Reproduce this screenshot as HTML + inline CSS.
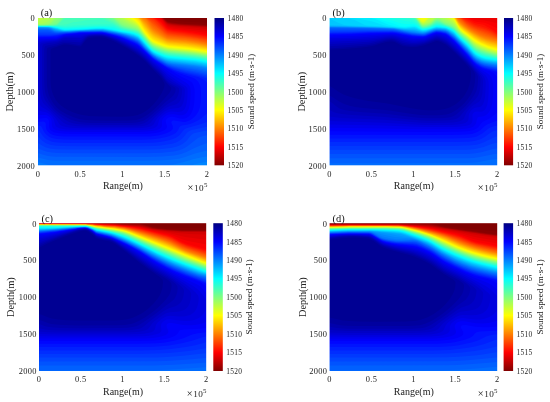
<!DOCTYPE html>
<html><head><meta charset="utf-8"><title>Sound speed profiles</title>
<style>html,body{margin:0;padding:0;background:#fff}svg{display:block}text{font-family:"Liberation Serif","DejaVu Serif",serif;fill:#222}.b{font-size:7.4px;letter-spacing:0.3px}.t{font-size:8.4px;letter-spacing:0.35px}.l{font-size:10.2px}.c{font-size:9.05px}.p{font-size:10.4px;fill:#111}</style></head><body>
<svg width="550" height="402" viewBox="0 0 550 402">
<rect width="550" height="402" fill="#fff"/>
<defs><linearGradient id="jet" x1="0" y1="0" x2="0" y2="1"><stop offset="0.000" stop-color="#000080"/><stop offset="0.062" stop-color="#0000bf"/><stop offset="0.125" stop-color="#0000ff"/><stop offset="0.188" stop-color="#0040ff"/><stop offset="0.250" stop-color="#0080ff"/><stop offset="0.312" stop-color="#00bfff"/><stop offset="0.375" stop-color="#00ffff"/><stop offset="0.438" stop-color="#40ffbf"/><stop offset="0.500" stop-color="#80ff80"/><stop offset="0.562" stop-color="#bfff40"/><stop offset="0.625" stop-color="#ffff00"/><stop offset="0.688" stop-color="#ffbf00"/><stop offset="0.750" stop-color="#ff8000"/><stop offset="0.812" stop-color="#ff4000"/><stop offset="0.875" stop-color="#ff0000"/><stop offset="0.938" stop-color="#bf0000"/><stop offset="1.000" stop-color="#800000"/></linearGradient></defs>
<!-- panel (a) -->
<mask id="ma" maskUnits="userSpaceOnUse" x="36.0" y="16.0" width="173.0" height="151.3"><rect x="38.00" y="18.00" width="169.00" height="147.30" fill="#fff"/></mask>
<g mask="url(#ma)"><g transform="translate(38.0,18.0)">
<rect x="-1" y="-1" width="171.0" height="149.3" fill="#000093"/>
<path fill="#00009f" d="M-1,-1 171,-1 171,150 -1,150zM51,20 50,20.4 48,22 46,24.2 44,26.9 43,28 42,28.4 40,28.3 31,26.8 28,26.5 26,26.6 24,27 20,28.5 15,30 13.2,31 12.6,32 12.5,35 12.5,60 12.6,65 13,68.9 14,73.5 15.7,78 17.9,82 20,84.7 23,87.5 26.5,90 29.9,92 34.4,94 40,95.9 44.6,97 51,97.9 56,98.3 66,98.6 84,98.7 90,98.5 95,98.1 99.6,97 104,95.2 107.8,93 111.7,90 115.8,86 120,80.8 123.7,75 126,70 126.7,67 126.2,65 124,61 122,58.5 115,51.6 108,44 104.7,41 100.9,38 95.2,34 90.4,31 85,28 75.4,23 66.9,20 64,19.4 62,19.3 56,19.5z"/>
<path fill="#0000ac" d="M-1,-1 171,-1 171,150 -1,150zM51,18.8 50,19.1 47.6,21 46,22.7 44,25.3 43,26.3 42,26.8 41,26.9 31,25.2 26,25.1 24,25.5 19,27.2 11,29.2 9.5,30 8.9,31 8.7,34 8.8,63 9,68 9.8,73 10.6,76 11.8,79 13.3,82 15,85 18.2,89 20.4,91 23,92.9 28.2,96 35,99.1 41,100.9 47,101.9 58,102.5 76,102.7 91,102.5 98,101.9 101.6,101 105,99.5 109,97.1 113.1,94 116.5,91 120.6,87 129.6,77 132,74 133,72 133.3,71 133.2,70 132.6,69 130,66.6 128,64.3 123,57.6 121,55.5 115,50 107,41.6 102.8,38 97.3,34 91,30 78.1,23 73.4,21 67.6,19 64,18.2 62,18 56,18.2z"/>
<path fill="#0000b9" d="M-1,-1 171,-1 171,150 -1,150zM52,17.9 50,18.4 48.8,19 46.2,21 43,24.2 42,24.6 30,23.5 26,23.4 24,23.8 18,25.8 9,27.4 7.5,28 6.7,29 6.4,30 6.2,32 6.2,62 6.5,69 7.1,74 7.9,77 8.7,79 10.2,82 12.1,85 16,90.2 18,92.3 21,94.7 27,98.5 33,101.7 37,103.1 43,104.2 53,104.9 68,105.1 91,105 96,104.8 100,104.3 103,103.6 105,102.9 107,101.8 110,99.7 118,93 127,84.5 133.8,79 135.7,77 136.8,75 137.5,73 137.7,71 137.2,70 136.2,69 132,66.4 130,65 128,62.8 124,57.3 122,55 115,48.7 107,40.4 103,37 99,33.9 91.1,29 79.8,23 75.4,21 69.7,19 66,17.9 63,17.5 57,17.6z"/>
<path fill="#0000c6" d="M-1,-1 171,-1 171,150 -1,150zM59,17 53,17.3 50,17.7 47.3,19 44,21.4 43,22 42,22.3 30,21.7 26,21.8 24,22.2 19,23.9 16,24.5 10,25.1 7,25.8 6,26 4.7,27 4.3,28 4.1,31 4.1,63 4.3,71 5,76.2 6.1,80 7,82 8.3,84 14.9,92 19,95.8 27,101.7 30,103.5 34,105.1 39,106.1 48,106.8 61,107 91,107 97,106.8 101,106.4 103.6,106 106,105.3 109,103.8 127,87.9 130,85.7 136,82.5 138,81 138.8,80 140,77.6 140.9,74 141.1,71 140.6,70 139,68.8 132.1,65 130,63.4 128,61.2 124.3,56 122,53.4 115,47.4 108,40.2 102,34.9 97.9,32 91.1,28 85.5,25 77,21 71.4,19 66,17.4 63,17z"/>
<path fill="#0000d2" d="M-1,-1 171,-1 171,150 -1,150zM51,17 47.1,18 44,19.6 42,20.1 28,20.1 26,20.3 23.7,21 20,22.6 18,23.1 9.3,24 4,25 2.4,26 2,27 1.8,31 1.9,68 2.4,76 3.3,81 4.6,84 6,86 11,90.5 16,95.7 24,103.4 25.9,105 29,106.5 32,107.3 37,108.1 44,108.5 58,108.7 91,108.7 99,108.6 105,108 109,107 111,106 112,105.2 113.2,104 116.4,100 118.4,98 124,93.1 128,90.1 130,88.9 132,88 137,86.7 138.7,86 140,85.2 141.2,84 142,82.7 142.7,81 143.5,78 143.9,75 144.1,72 144,71 143.6,70 142,68.6 134.1,64 130,61 128,58.9 124.1,54 122.2,52 115,46.1 107,38.1 101,32.9 96.5,30 87.3,25 78.6,21 74,19.3 68,17.4 64,16.6 58,16.5z"/>
<path fill="#0000df" d="M-1,-1 171,-1 171,150 -1,150 -1,77.6 -0.6,80 0.6,84 1.5,86 2.8,88 3.8,89 5,89.8 9,91.9 12,94.1 14.8,97 17.5,100 21.3,106 23,107.4 25,108.3 28,109.1 32,109.7 42,110.3 61,110.4 99,110.3 104,110.1 108,109.6 111,109 113.6,108 115,107 115.9,106 118,102 120.2,99 123.5,96 127,93.3 130,91.7 132,91.1 134,90.7 140,90.1 141,89.8 142.4,89 143.5,88 144.2,87 145.5,84 146.5,79 146.9,73 146.7,71 146.3,70 145.4,69 136,63 130,58.4 122.8,51 115,44.8 107,36.9 101,31.7 96.8,29 87.1,24 80.3,21 75,19 68.2,17 64,16.2 59,16.1 51,16.4 47,17.2 43,18.5 42,18.7 28,19.1 26,19.3 24,19.9 19,22 17,22.3 9,22.9 4,23.6 1,24.4 -0.2,25 -1,25.7z"/>
<path fill="#0000ec" d="M-1,-1 171,-1 171,150 -1,150 -1,91.1 2.3,93 4,93.5 8,94.3 10,95.2 11,95.9 13.3,98 15.5,101 16.2,103 17,106.4 17.8,108 18.9,109 20,109.6 22,110.4 24,110.8 28,111.4 33,111.8 47,112.1 97,112.1 105,111.9 110,111.5 112.9,111 115,110.4 116.2,110 118,109 119.1,108 119.7,107 121.1,102 122.3,100 125,97.3 128,95.2 130,94.3 133,93.6 135,93.5 140,93.9 142,93.8 144,93.2 145.6,92 146.5,91 147.6,89 148.7,85 149.4,80 149.6,73 149.5,71 149.2,70 147.5,68 138,61.8 130,55.9 122.3,49 115,43.6 107,35.8 101,30.5 97,28 87,23 82.2,21 76.8,19 69,16.7 64,15.7 60,15.6 51,15.9 47,16.3 42,17.3 27,18.2 25,18.7 20,20.8 18,21.3 8,21.8 -1,22.9z"/>
<path fill="#0000f9" d="M-1,-1 171,-1 171,150 -1,150 -1,96.7 2,97.1 8,97.1 9,97.4 10.3,98 11.5,99 12.4,100 13.4,102 13.7,104 13.9,108 14.3,109 14.9,110 16,111 18,112 22.6,113 27,113.5 33,113.8 53,114 101,113.9 109,113.6 114,113.1 119,112 121.2,111 122.6,110 123.5,109 123.9,108 124,103 124.7,101 126.4,99 129,97.2 131,96.5 134,96.2 136,96.3 141,97.2 144,97.3 146,96.8 147.3,96 148.4,95 149.2,94 150.3,92 151.1,90 151.8,87 152.4,81 152.7,73 152.5,71 152,69 151,67.3 149.7,66 147,64.1 138,58.6 132,54.7 123.1,48 116,43.1 113,40.6 104,31.9 100.6,29 97.3,27 86.7,22 78.7,19 69,16.3 65,15.5 62,15.2 51,15.4 46,15.7 37,16.6 27,17.4 25,17.9 20,20 18,20.4 -1,21.1z"/>
<path fill="#0006ff" d="M-1,-1 171,-1 171,150 -1,150 -1,100.7 2,100.6 7,99.9 8,100 9,100.3 10,101.1 10.6,102 11,103 11.1,104 11,109 11.7,111 12.5,112 14,113.2 16,114.2 18,114.8 21,115.3 27,115.7 37,116 95,116.1 109,115.9 113,115.6 117,115.1 121,114.2 124,113.3 126.6,112 127.9,111 128.6,110 128.9,109 128.9,108 128,105 127.7,103 127.9,102 128.5,101 130,99.7 132,98.9 134,98.8 136,99 142,100.4 145,100.7 147,100.4 148.3,100 150,99 151.2,98 152.8,96 153.9,94 154.7,92 155.6,89 156.4,83 156.7,74 156.5,71 155.4,67 154.3,65 153,63.8 151,62.4 143,58.4 129,50.6 117,42.8 113,39.7 102,29.1 99.1,27 95.1,25 83.6,20 77.3,18 69.6,16 65,15.1 62,14.9 46,15 42,15.2 37,15.9 31,16.3 26,16.9 20,19.1 18,19.5 -1,19.8z"/>
<path fill="#0013ff" d="M-1,-1 171,-1 171,150 -1,150 -1,104 5,103.6 6,103.7 6.8,104 7.6,105 7.8,106 7.9,109 8.3,111 9,112.5 10,113.8 12,115.5 14,116.5 17,117.5 20,117.9 26,118.4 36,118.6 101,118.6 112,118.4 116,118 120,117.5 125,116.3 128.9,115 132,113.5 134,112 134.6,111 134.9,110 134.7,108 133.4,105 133.3,104 134,102.9 135,102.6 136,102.5 144,103.8 146,103.9 148,103.7 150,103.1 152.4,102 153.9,101 156.3,99 158.1,97 159.5,95 160.6,93 161.7,90 162.3,87 162.7,84 163,75 162.6,70 162.2,68 161.5,66 160.4,64 159.6,63 157.1,61 155.3,60 152.8,59 148,57.6 140,54.7 135,52.7 130,50.3 125,47.3 116,41.5 112,38.1 103,29.4 100,26.9 96.6,25 87.4,21 82.1,19 75.1,17 66.5,15 64,14.7 61,14.6 40,14.9 36,15.6 28.7,16 25,16.7 20,18.2 18,18.5 11,18.9 -1,18.9z"/>
<path fill="#0020ff" d="M-1,-1 171,-1 171,65.7 169,64.7 166.2,62 162.6,60 159,58.8 149,56.3 143,54.6 135,51.8 129,49.1 118,42.3 115,40.2 112,37.6 102,27.9 99.6,26 96,24.2 86.1,20 79,17.7 67.9,15 65,14.5 62,14.3 49,14.4 41,14.6 35,15.3 28,15.8 26,16 19,17.6 13,18.1 -1,18.3zM170.4,94 171,93.6 171,150 -1,150 -1,107.2 1,107.4 2,107.7 3,108.2 4,109.5 5.5,113 6.8,115 8,116.3 10,118 12,119.2 14,120 16,120.6 19,121.1 26,121.5 39,121.7 103,121.7 115,121.3 121,120.6 126,119.6 131,118.2 135,116.6 137,115.4 138.7,114 140.1,112 141.5,109 142.6,108 144,107.5 149,106.7 152,105.9 154.6,105 158.9,103 161,101.8 163.7,100z"/>
<path fill="#002dff" d="M-1,-1 171,-1 171,60.7 169,60.6 160,57.7 144,53.9 136,51.4 130,49 127,47.4 119,42.5 115,39.8 112,37.2 102,27.4 99,25.1 96,23.6 87,19.9 84,18.8 77.8,17 69,15 64,14.1 48,14.1 41,14.3 36,14.9 28,15.5 19,16.9 13,17.5 -1,17.6zM169.1,104 171,103.6 171,150 -1,150 -1,111.1 0,111.6 1,112.6 4.9,118 6,119.2 8,120.9 10,122.1 12,123 14,123.7 17,124.2 23,124.7 34,124.9 102,124.9 114,124.7 120,124.2 125,123.5 131,122.3 135,121.1 138,119.8 140.6,118 142.6,116 145.7,112 146.9,111 148,110.4 150,109.7 159.9,107z"/>
<path fill="#0039ff" d="M-1,-1 171,-1 171,59.2 169,59.1 160,56.4 148,53.9 143,52.6 136,50.6 130,48.4 127,46.9 120,42.7 115,39.4 111,35.8 102,26.8 99,24.6 96,23.1 86,19.1 78,16.7 66,14.1 61,13.8 42,14 36,14.7 27,15.3 18,16.4 10,16.8 -1,16.8zM167.7,109 171,108.6 171,150 -1,150 -1,117.8 4.6,123 8,125.2 10,126.1 13,127 18,127.8 25,128.1 39,128.2 105,128.2 117,127.9 123,127.4 129,126.6 134,125.7 138,124.5 141,123 143.8,121 145.7,119 149,114.8 151.3,113 153.7,112 156,111.4z"/>
<path fill="#0046ff" d="M-1,-1 171,-1 171,57.7 169,57.6 160,55.2 148,52.8 141,51.1 134,49.2 129,47.4 120,42.3 115,39 111,35.4 102,26.3 99,24 96,22.6 87,19 79,16.6 67,14 62,13.6 42,13.8 36,14.4 18,15.8 11,15.4 -1,15.3zM166.5,113 171,112.6 171,150 -1,150 -1,124.5 5,128 8,129.4 13,130.7 18,131.3 32,131.6 103,131.6 114,131.5 121,131.2 128,130.5 134,129.7 138,128.8 141,127.8 144.5,126 147.2,124 149.2,122 153,117.3 155,115.8 156.7,115 159,114.4z"/>
<path fill="#0053ff" d="M-1,-1 171,-1 171,56.3 169,56.2 160,53.9 148,51.7 139,49.8 133,48.2 129,46.8 120,41.9 115,38.6 111,35.1 102,25.8 99,23.5 96,22 88.2,19 84,17.6 80,16.5 68,14 63,13.4 42,13.6 34,14.3 18,15.2 16,15 12,13.9 10,13.7 -1,13.7zM165.1,118 168,117.4 171,117.1 171,150 -1,150 -1,130 6,132.8 9,133.7 14,134.6 19,135 34,135.2 107,135.2 116,135 124,134.7 131,134 136,133.4 140,132.5 144,131.2 147,129.7 149.8,128 158,121.4 160,120 162.1,119z"/>
<path fill="#0060ff" d="M-1,-1 171,-1 171,54.8 169,54.8 160,52.6 138,48.7 133,47.5 129,46.3 126,44.8 120,41.4 115,38.2 110.3,34 106,29.7 102,25.3 100,23.6 99,22.9 96,21.5 88,18.5 84,17.2 80,16.2 68,13.7 63,13.1 42,13.4 32,14.2 19,14.7 17,14.6 16,14.3 12.8,13 10,12.2 -1,12.2zM169.5,125 171,124.8 171,150 -1,150 -1,134.8 6,136.9 10,137.9 14,138.4 19,138.7 107,138.9 117,138.8 124,138.5 136,137.4 140,136.7 143,136 148,134.2 156,130.3 160,128.5 167,125.7z"/>
<path fill="#006cff" d="M-1,-1 171,-1 171,53.4 169,53.3 159,51.2 137,47.7 132,46.6 129,45.7 126,44.3 120,41 115,37.8 113,36.1 110,33.3 101,23.8 99,22.4 96,21 87.9,18 80.7,16 68,13.5 63,12.9 43,13.2 30,14.1 20,14.2 17,14 15,13.3 12,11.9 10,11.5 -1,11.4zM167.1,133 171,132.4 171,150 -1,150 -1,139.3 10,141.9 14,142.4 19,142.7 103,142.8 120,142.6 133,141.8 141,140.7 147,139.1 157,135.6z"/>
<path fill="#0079ff" d="M-1,-1 171,-1 171,51.9 169,51.9 159.3,50 135,46.6 131,45.7 128,44.7 119,40 114,36.6 107,29.9 102,24.3 99.2,22 96,20.5 90,18.3 82.2,16 69,13.4 64,12.7 57,12.7 42.5,13 32,13.8 24,13.9 17,13.4 12,11.3 10.8,11 -1,10.8zM165.2,139 171,138.3 171,150 -1,150 -1,143.9 2,144.6 9,146.6 13,147.6 17,148.1 22,148.4 36,148.6 103,148.6 118,148.3 129,147.3 135,146.5 139,145.8 145,144.3 156,140.9z"/>
<path fill="#0086ff" d="M-1,-1 171,-1 171,50.7 169,50.7 161,49.1 153,48 134,45.7 130,44.9 128,44.2 119,39.6 114,36.2 109.5,32 106,28.4 102,23.8 100,22 96,20 90.4,18 83.6,16 74,14 68,13 64,12.5 58,12.4 42,12.8 32,13.6 25,13.7 21,13.4 17,12.9 12.6,11 10,10.4 -1,10.2zM167.9,144 171,143.7 171,150 150.7,150 151.6,149 153,148 156,146.6 162,145z"/>
<path fill="#0093ff" d="M-1,-1 171,-1 171,49.8 169,49.8 162,48.5 156,47.6 135,45.2 131,44.5 128,43.6 119,39.1 114,35.8 110,32 106,27.9 102,23.3 100,21.5 97.2,20 94.6,19 88.5,17 84,15.8 75.4,14 68,12.7 64,12.2 58,12.2 42,12.7 33,13.3 26,13.5 22,13.2 17,12.4 13,10.7 10.7,10 -1,9.8z"/>
<path fill="#009fff" d="M-1,-1 171,-1 171,49.1 169,49.1 162,47.8 156,46.9 134,44.4 130,43.7 128,43.1 119,38.7 116,36.9 114,35.4 110.4,32 106,27.4 102,22.8 100,21 98,19.9 95,18.7 89.7,17 84,15.5 76,13.9 68,12.5 64,12 55,12.1 42,12.5 31,13.2 26,13.3 23,13 18,12.2 16,11.6 12.3,10 11,9.8 -1,9.4z"/>
<path fill="#00acff" d="M-1,-1 171,-1 171,48.4 169,48.4 163,47.2 157,46.4 134,43.8 130,43.1 128,42.5 119,38.2 116,36.5 114,35 111.8,33 107,28 102,22.3 100,20.6 98,19.5 95,18.3 91,17 86,15.7 76,13.6 68,12.2 64,11.8 57,11.8 42,12.3 31,13 26,13.1 23,12.7 18,11.7 13.2,10 11,9.5 -1,9.1z"/>
<path fill="#00b9ff" d="M-1,-1 171,-1 171,47.7 169,47.7 163,46.5 157,45.7 134,43.2 130,42.5 127,41.5 119,37.8 116,36.1 114,34.6 110.3,31 102,21.8 100,20.1 98,19 95.5,18 88,15.9 76,13.4 68,12 64,11.5 58,11.5 42,12.2 32,12.8 26,12.8 23,12.4 18,11.3 13,9.7 11,9.3 7.9,9 -1,8.9z"/>
<path fill="#00c6ff" d="M-1,-1 171,-1 171,47 169,47 163,45.8 157,45 133,42.4 130,41.9 127,41 119,37.4 116,35.7 114,34.2 110.7,31 102,21.4 100,19.6 96,17.7 89,15.8 75,12.9 65,11.3 58,11.3 27,12.7 25,12.5 22.2,12 10.9,9 -1,8.8z"/>
<path fill="#00d2ff" d="M-1,-1 171,-1 171,46.3 169,46.3 163,45.1 157,44.3 133,41.8 130,41.3 127,40.4 119,36.9 116,35.2 114,33.8 111.1,31 102,20.9 100,19.2 96,17.3 90,15.6 75,12.6 65,11.1 59,11 27,12.5 23.4,12 12,9 9,8.8 -1,8.7z"/>
<path fill="#00dfff" d="M-1,-1 171,-1 171,45.6 169,45.6 163,44.4 157,43.6 133,41.2 130,40.7 127,39.8 119,36.5 116,34.8 114,33.4 111.5,31 102,20.4 100,18.7 96,16.9 91,15.5 75,12.4 68,11.2 64,10.8 59,10.7 35.6,12 27,12.3 24.5,12 19,10.4 12,8.8 9,8.6 -1,8.6z"/>
<path fill="#00ecff" d="M-1,-1 171,-1 171,44.9 169,44.9 163,43.7 157.8,43 133,40.6 129,39.9 126,38.9 118,35.5 116,34.4 114,33 111.9,31 102.1,20 100,18.2 96,16.4 92,15.3 84.3,14 73,11.7 65,10.5 58,10.5 49,11.2 27,12.1 25.9,12 23,11.3 18,9.8 12,8.7 -1,8.4z"/>
<path fill="#00f9ff" d="M-1,-1 171,-1 171,44.2 169,44.2 163,43 158,42.3 133,40 129,39.3 126,38.4 118,35.1 116,34 114,32.6 111.4,30 103,20.5 101,18.5 100,17.8 96,16 92,14.9 81,13.1 79,12.5 74,11.5 66,10.3 58,10.2 48,11 27,11.7 23,11 19,9.7 12,8.5 -1,8.3z"/>
<path fill="#06fff9" d="M-1,-1 171,-1 171,43.6 169,43.5 160,41.9 132,39.2 129,38.7 125,37.4 118.9,35 116,33.5 114,32.1 111.8,30 103,20 100,17.3 96,15.5 92,14.4 82.4,13 75,11.2 69,10.2 65,9.9 60,9.8 38.2,11 27,11.3 24.2,11 19,9.4 13,8.5 10,8.3 -1,8.2z"/>
<path fill="#13ffec" d="M-1,-1 171,-1 171,43 169,42.9 163,41.8 157,41 133,38.8 129,38.1 126,37.2 118,34.1 115.9,33 114,31.7 112,29.7 102,18.4 100,16.8 99,16.2 96,15 93,14.2 84,12.8 75,10.3 67,9.4 61,9.2 47.5,10 27,10.8 24,10.3 19,9 13,8.3 10,8.1 -1,8.1z"/>
<path fill="#20ffdf" d="M-1,-1 171,-1 171,42.4 169,42.4 162,41.1 157,40.4 133,38.2 129,37.6 126,36.7 118,33.6 116,32.5 114,31.2 112,29.2 103,18.9 101,17 100,16.2 97,14.9 94,14 83,11.9 76,9.3 74,9 71,8.8 61,8.5 27,10 25,9.8 19,8.6 13,8.1 -1,8z"/>
<path fill="#2dffd2" d="M-1,-1 171,-1 171,41.9 169,41.8 163,40.7 157,39.9 132,37.5 129,37 125,35.8 118,33.1 116,32 114,30.7 112,28.7 103,18.4 101,16.4 100,15.7 97,14.4 94,13.5 83,11.2 76,8 73,7.7 58,7.8 27,9 20,8.4 12,7.9 -1,7.9z"/>
<path fill="#39ffc6" d="M-1,-1 171,-1 171,41.3 169,41.3 163,40.1 157,39.3 132,36.9 128,36.1 124,34.8 118,32.5 116,31.5 114,30.2 112,28.2 103,17.8 101,15.9 100,15.1 98,14.2 95,13.2 91,12.3 85,11.1 83,10.6 77,7.4 75,6.6 73,6.3 70,6.2 51,6.6 27,8 11,7.7 -1,7.8z"/>
<path fill="#46ffb9" d="M-1,-1 171,-1 171,40.8 169,40.7 163,39.6 157,38.8 131,36.2 127,35.3 121,33.2 117,31.5 114,29.6 112,27.7 103,17.3 101,15.3 100,14.6 98,13.7 95.9,13 91,11.8 86,10.8 83.3,10 81.2,9 77,6.5 75,5.5 65.9,2 63,1.5 61,1.4 47,2.4 42,3.5 35,4.3 29.9,6 27,6.5 18,7.6 -1,7.6z"/>
<path fill="#53ffac" d="M-1,-1 28,-1 27.8,0 25,1.9 21.1,6 19.4,7 18,7.3 16,7.4 -1,7.5zM64.3,-1 171,-1 171,40.2 169,40.2 163,39.1 157,38.3 131,35.6 127,34.7 120,32.3 116,30.5 114,29.1 113,28.2 103,16.8 101,14.8 100,14.1 98,13.1 96,12.5 86,10.2 83,9.2 80.8,8 75,4.3 69.9,2 64.6,0z"/>
<path fill="#60ff9f" d="M-1,-1 26,-1 25.9,0 24,1.8 21,5.2 20,6.1 19,6.7 17.8,7 14,7.2 -1,7.4zM66.4,-1 171,-1 171,39.7 169,39.6 162,38.4 156,37.6 131,35 127,34.1 120,31.7 116,29.9 114,28.6 113,27.7 103,16.2 101,14.2 100,13.5 97,12.3 84,8.9 82,7.9 77,4.3 75,3 66.9,0z"/>
<path fill="#6cff93" d="M-1,-1 25.4,-1 25.3,0 20.5,5 19,6.2 14,7 -1,7.3zM69.2,-1 171,-1 171,39.1 169,39.1 163,38 156,37 131,34.5 127,33.6 119,30.8 115,28.8 113,27.2 103,15.7 101,13.7 100,13 97,11.8 87,9.2 84,8.3 81.8,7 76,2.3 74,1.3 69.8,0z"/>
<path fill="#79ff86" d="M-1,-1 24.7,-1 24.5,0 21,3.6 19.5,5 18,5.8 10.9,7 -1,7.2zM73.6,-1 171,-1 171,38.6 169,38.5 162,37.3 155,36.4 131,33.9 126,32.7 119,30.3 115,28.3 113,26.7 103,15.1 101,13.1 100,12.4 97,11.2 88.3,9 84,7.6 81.5,6 77,2 74,0z"/>
<path fill="#86ff79" d="M-1,-1 23.2,-1 23,0 22,0.8 13.3,6 10,6.8 -1,7zM75,-1 171,-1 171,38 169,38 156,36 131,33.4 127,32.5 119,29.8 115,27.8 113,26.2 103,14.6 101,12.5 100,11.8 97,10.6 87.4,8 84,6.7 82,5.4 78,2 75.2,0z"/>
<path fill="#93ff6c" d="M-1,-1 18.6,-1 18.4,0 11.8,6 10,6.4 -1,6.8zM75.9,-1 171,-1 171,37.6 169,37.5 160,36 151.7,35 131,32.8 126,31.7 119,29.3 115,27.3 113,25.7 102,12.9 100,11.2 98,10.2 91.1,8 84,5.2 82,4.1 76.2,0z"/>
<path fill="#9fff60" d="M-1,-1 17.3,-1 17.1,0 13,4 11.9,5 10,6 -1,6.4zM77.1,-1 171,-1 171,37.1 169,37.1 162,35.9 154,34.8 131,32.4 127,31.5 119,28.8 115,26.9 113,25.3 106,17.2 102,12.3 100,10.5 98,9.3 91.7,7 83,3 77.5,0z"/>
<path fill="#acff53" d="M-1,-1 16.1,-1 15.9,0 12,2.4 10,3.4 5.6,5 1.1,6 -1,6.1zM79.2,-1 171,-1 171,36.7 169,36.6 161,35.3 153,34.2 131,31.9 127,31 119,28.3 115,26.4 113,24.8 106.2,17 102,11.7 100,9.7 98,8.5 91,5.4 85,2.2 79.6,0z"/>
<path fill="#b9ff46" d="M-1,-1 10.6,-1 10.1,0 9,0.7 4.5,2 0,4 -1,4.1zM83.6,-1 171,-1 171,36.2 169,36.2 161,34.8 153,33.7 130,31.3 126,30.3 118,27.5 115,25.9 112,23.3 106,16.3 102,11.1 100,9 98,7.6 92,4.7 87.5,2 85,0.8 83.9,0z"/>
<path fill="#c6ff39" d="M-1,-1 7,-1 6,0 2,0.6 -1,0.9zM85.1,-1 171,-1 171,35.8 169,35.7 161,34.4 152,33.2 134,31.4 130,30.8 126,29.8 118,27 115,25.5 112,22.9 106.2,16 102,10.5 100,8.3 98,6.8 96,5.6 85.3,0z"/>
<path fill="#d2ff2d" d="M86.3,-1 171,-1 171,35.3 169,35.3 161,33.9 152,32.7 130,30.4 126,29.4 118,26.5 115,25 112,22.4 106.6,16 101,8.6 99,6.7 97,5.2 94,3.4 86.7,0z"/>
<path fill="#dfff20" d="M88.3,-1 171,-1 171,34.8 169,34.8 161,33.4 151,32.1 130,29.9 126,28.9 118,26.1 115,24.6 112,22 106.2,15 101,7.9 99,5.9 97,4.2 94,2.2 92,1.2 88.8,0z"/>
<path fill="#ecff13" d="M91.7,-1 171,-1 171,34.4 169,34.4 160,32.8 150,31.5 134.2,30 130,29.4 125,28.1 117,25.1 114,23.4 111,20.4 106,14.3 102,8.5 100,6 96.6,3 92,0z"/>
<path fill="#f9ff06" d="M92.9,-1 171,-1 171,33.9 169,33.9 162,32.6 148,30.8 130.3,29 126.3,28 117.8,25 115.7,24 114.2,23 112,21 107,15 100.7,6 97.5,3 93.1,0z"/>
<path fill="#fff900" d="M93.8,-1 171,-1 171,33.4 169,33.3 158,31.5 150,30.4 134.2,29 130,28.4 128,28 124.9,27 116.9,24 115,22.9 112,20.3 106,13 102.8,8 100.7,5 98,2.6 94.1,0z"/>
<path fill="#ffec00" d="M94.9,-1 171,-1 171,32.7 169,32.7 160,31.2 149,29.7 131,27.9 127.2,27 119,24 115,22 112,19.4 109.1,16 106,12 101,4.2 99,2.3 95.3,0z"/>
<path fill="#ffdf00" d="M96.6,-1 171,-1 171,32.1 169,32 160,30.5 150,29.1 134,27.5 130,27 126.6,26 118,22.5 115,20.9 112,18.2 106.2,11 102,4.1 101,2.8 100,1.8 97,0z"/>
<path fill="#ffd200" d="M99.1,-1 171,-1 171,31.3 169,31.3 160,29.7 149,28.2 134,26.8 130,26.2 127,25.3 119,21.9 115,19.7 113,18 111.1,16 106,9.5 102,2.9 101,1.7 99.2,0z"/>
<path fill="#ffc600" d="M100,-1 171,-1 171,30.6 169,30.6 160,29 149,27.4 132,25.8 129,25.2 126,24 117,19.8 115,18.5 113,16.8 110.5,14 106,8.2 102,2.1 100.1,0z"/>
<path fill="#ffb900" d="M100.5,-1 171,-1 171,29.9 169,29.9 160,28.2 149,26.6 132,25 129,24.4 127,23.6 118,19.2 116,18.1 114,16.6 111.6,14 106,7 102.5,2 100.7,0z"/>
<path fill="#ffac00" d="M101.1,-1 171,-1 171,29.2 169,29.2 159,27.3 148,25.7 132,24.2 130,23.9 128,23.2 118,18.2 116,16.9 114,15.4 111.8,13 101.2,0z"/>
<path fill="#ff9f00" d="M101.6,-1 171,-1 171,28.5 169,28.4 159,26.6 148,25 132,23.5 130,23.1 128,22.4 118,17.1 116,15.8 114,14.2 112,12 108,6.9 101.8,0z"/>
<path fill="#ff9300" d="M102.3,-1 171,-1 171,27.7 169,27.7 159,25.8 148,24.2 132,22.7 130,22.3 128,21.6 118,16 115,13.9 113,11.9 108,5.6 102.5,0z"/>
<path fill="#ff8600" d="M103.1,-1 171,-1 171,27 169,27 161,25.4 150,23.7 144,23 133,22 129,21.2 127,20.3 118.2,15 115,12.7 113,10.7 108,4.3 103.3,0z"/>
<path fill="#ff7900" d="M104.3,-1 171,-1 171,26.2 169,26.2 160,24.5 148,22.6 133,21.2 131,21 129,20.4 126.4,19 118.5,14 115,11.5 113,9.3 109.9,5 108,2.8 104.6,0z"/>
<path fill="#ff6c00" d="M106.6,-1 171,-1 171,25.4 169,25.3 161,23.8 151,22.2 145,21.4 133,20.3 131,20 129,19.4 127,18.3 118,12.3 115,9.9 113,7.7 109,2.3 106.7,0z"/>
<path fill="#ff6000" d="M107.5,-1 171,-1 171,24.4 169,24.4 159,22.5 148,20.8 133,19.3 130,18.8 129,18.4 126.7,17 118,10.7 115,8.3 109.6,2 107.6,0z"/>
<path fill="#ff5300" d="M108.1,-1 171,-1 171,23.5 169,23.5 160,21.8 149,20 144,19.4 135,18.6 130,17.7 129,17.3 127,16.1 115,6.6 108.3,0z"/>
<path fill="#ff4600" d="M108.8,-1 171,-1 171,22.6 169,22.6 160,20.8 149,19.1 135,17.6 130,16.7 129,16.3 127,15 109,0z"/>
<path fill="#ff3900" d="M109.7,-1 171,-1 171,21.7 169,21.6 160,19.9 149,18.2 135,16.6 130,15.7 129,15.3 127,13.9 116,4.1 110,0z"/>
<path fill="#ff2d00" d="M111.5,-1 171,-1 171,20.7 169,20.7 153,17.9 145,16.7 135,15.7 130,14.7 128.7,14 127,12.7 116.8,3 115,1.7 111.8,0z"/>
<path fill="#ff2000" d="M114.6,-1 171,-1 171,19.8 169,19.8 159,17.9 146,15.9 134,14.6 130,13.7 128.7,13 127,11.6 118.4,3 114.8,0z"/>
<path fill="#ff1300" d="M115.7,-1 171,-1 171,18.9 169,18.8 159,17 146,15 135,13.7 130,12.7 128,11.4 123,6.2 118.5,2 115.8,0z"/>
<path fill="#ff0600" d="M116.5,-1 171,-1 171,17.9 169,17.9 160,16.2 146,14.1 135,12.7 130,11.6 129,11.1 127.8,10 123,4.8 119.6,2 116.7,0z"/>
<path fill="#f90000" d="M117.5,-1 171,-1 171,16.9 169,16.8 156,14.5 143,12.6 136,11.9 131,10.9 129,10 127.9,9 123,3.4 117.8,0z"/>
<path fill="#ec0000" d="M119.1,-1 171,-1 171,15.1 169,15.1 157,13.2 136,10.7 131,9.8 130,9.5 129,8.8 127.3,7 124,2.8 122,1.3 119.5,0z"/>
<path fill="#df0000" d="M122,-1 171,-1 171,13.2 169,13.1 159,11.8 137,9.6 131,8.6 130,8.3 129,7.6 128,6.6 124,1.6 122.2,0z"/>
<path fill="#d20000" d="M123,-1 171,-1 171,11.2 169,11.2 159,10.1 139,8.6 131,7.5 130,7.2 129,6.6 128,5.6 125,2 123.1,0z"/>
<path fill="#c60000" d="M123.5,-1 171,-1 171,9.8 169,9.8 161.4,9 139,7.7 131,6.6 129,5.8 128,4.9 123.7,0z"/>
<path fill="#b90000" d="M124,-1 171,-1 171,9.1 142,7.4 132,6.2 130,5.7 129,5.2 128,4.3 124.1,0z"/>
<path fill="#ac0000" d="M124.4,-1 171,-1 171,8.7 141,6.8 135,6.2 131,5.5 130,5.3 128,3.8 124.5,0z"/>
<path fill="#9f0000" d="M124.8,-1 171,-1 171,8.3 143,6.6 137,6 132,5.3 130,4.8 128.7,4 124.9,0z"/>
<path fill="#930000" d="M125.2,-1 171,-1 171,7.8 143,6.2 132.8,5 130,4.3 129,3.7 128,2.8 125.4,0z"/>
<path fill="#860000" d="M125.9,-1 171,-1 171,7.2 165.7,7 159,6.3 148.1,6 137.3,5 135,4.6 131,3.8 129.2,3 126,0z"/>
<path fill="#800000" d="M127.6,-1 171,-1 171,4.7 147,3.8 141,3.3 136,2.5 130,1.1 127.9,0z"/>
<path fill="#800000" d="M145.5,-1 171,-1z"/>
</g></g>
<rect x="214.5" y="18.0" width="9.5" height="147.3" fill="url(#jet)"/>
<text class="t" x="35.1" y="21.3" text-anchor="end">0</text>
<text class="t" x="35.1" y="58.1" text-anchor="end">500</text>
<text class="t" x="35.1" y="94.9" text-anchor="end">1000</text>
<text class="t" x="35.1" y="131.7" text-anchor="end">1500</text>
<text class="t" x="35.1" y="168.6" text-anchor="end">2000</text>
<text class="t" x="38.0" y="176.6" text-anchor="middle">0</text>
<text class="t" x="80.2" y="176.6" text-anchor="middle">0.5</text>
<text class="t" x="122.5" y="176.6" text-anchor="middle">1</text>
<text class="t" x="164.8" y="176.6" text-anchor="middle">1.5</text>
<text class="t" x="207.0" y="176.6" text-anchor="middle">2</text>
<text class="b" x="227.5" y="20.8">1480</text>
<text class="b" x="227.5" y="39.2">1485</text>
<text class="b" x="227.5" y="57.6">1490</text>
<text class="b" x="227.5" y="76.1">1495</text>
<text class="b" x="227.5" y="94.5">1500</text>
<text class="b" x="227.5" y="112.9">1505</text>
<text class="b" x="227.5" y="131.3">1510</text>
<text class="b" x="227.5" y="149.7">1515</text>
<text class="b" x="227.5" y="168.1">1520</text>
<text class="l" style="font-size:10px" x="122.9" y="189.3" text-anchor="middle">Range(m)</text>
<text class="t" x="207.7" y="190.8" text-anchor="end"><tspan font-size="10.4">×</tspan><tspan font-size="9.2" dx="0.3">10</tspan><tspan dy="-3.9" font-size="6.9">5</tspan></text>
<text class="l" transform="translate(12.9,91.7) rotate(-90)" text-anchor="middle">Depth(m)</text>
<text class="c" transform="translate(253.7,91.5) rotate(-90)" text-anchor="middle">Sound speed (m·s-1)</text>
<text class="p" x="40.7" y="15.7">(a)</text>
<!-- panel (b) -->
<mask id="mb" maskUnits="userSpaceOnUse" x="327.6" y="16.0" width="171.6" height="151.3"><rect x="329.60" y="18.00" width="167.60" height="147.30" fill="#fff"/></mask>
<g mask="url(#mb)"><g transform="translate(329.6,18.0)">
<rect x="-1" y="-1" width="169.6" height="149.3" fill="#000093"/>
<path fill="#00009f" d="M-1,-1 170,-1 170,150 -1,150 -1,67.5 2,68.9 9,73.7 14,76.4 20.8,79 28.4,81 39,82.9 58,85.4 80.3,90 88,91.3 94,92 98,92.2 104,92.2 109,91.9 115.1,91 118.5,90 121,89 124.7,87 127,85.4 129.9,83 132,80.8 134,78.4 136,75.5 137.9,72 139,69.3 140,66 140.8,62 141.2,59 141.3,55 141.1,53 140.8,52 139,48.9 135.5,45 124,33.5 119,28.9 116,26.6 111.2,24 108,23.1 107,23.1 105,23.5 100,25.5 94,27.4 89,28.6 86,29.1 81,29 74,28.3 72,27.6 65,24.1 63,23.6 61,23.5 56.9,24 52.9,25 45,27.4 40,28.5 32,29.4 21,30.4 -1,32z"/>
<path fill="#0000ac" d="M-1,-1 170,-1 170,150 -1,150 -1,77.4 2,78.6 10,83.7 14.6,86 20,87.8 25.8,89 33.6,90 58,92.3 82.8,96 91,96.9 97,97.2 103,97.3 109,97.2 114,96.8 117,96.4 120,95.5 122,94.7 125,93.1 128,91 131.7,88 134.9,85 137,82.5 139,79.8 141,76.7 142.4,74 143.7,71 144.6,68 145.2,65 145.7,58 145.4,56 145.1,55 143.9,53 141,49.3 137,44.8 125,32.9 119.7,28 117,25.8 112.1,23 109,21.9 107,21.7 105.5,22 101,23.7 95,25.7 89,27.2 86,27.6 82,27.7 75,27 72,26.1 65,22.7 63,22.2 61,22.1 55.2,23 45,25.9 39.9,27 31.1,28 19.6,29 6.9,30 -1,30.4z"/>
<path fill="#0000b9" d="M-1,-1 170,-1 170,150 -1,150 -1,82.9 0,83.3 2,84.5 7,88.6 10,90.4 12,91.2 14.8,92 20.4,93 30.4,94 56,95.8 81.5,99 92,100 99,100.2 109,100.2 115,100 119,99.5 121.3,99 124,98.1 127,96.2 136,88 138.7,85 141.9,81 145.3,76 147,72 148.1,67 148.5,60 148.2,58 147.3,56 146,54 143.6,51 138,44.5 126,32.5 120,26.9 117,24.5 112.4,22 109,20.8 107,20.7 106,20.8 95,24.7 90,25.8 86,26.3 81,26.2 75,25.3 72,24.5 65,21.5 63,21.1 61,21 56,21.7 44,24.6 39,25.5 19,27.1 -1,28.2z"/>
<path fill="#0000c6" d="M-1,-1 170,-1 170,150 -1,150 -1,91.7 3.9,94 7,95.1 12,96.1 19,96.8 55,98.9 83,101.8 93,102.5 101,102.7 113,102.6 119,102.3 123,101.8 127,100.7 128.3,100 129.6,99 131,97.5 134.6,93 146,81 147.7,79 149,76.5 150,73 150.7,68 151,62 150.7,60 150.4,59 148.7,56 143,49 136,41.2 125,30.2 119,24.7 116,22.6 112.7,21 110,20 108,19.6 106,19.8 95,23.7 90,24.6 86,25 82,24.9 75,23.7 72,22.8 66,20.7 64,20.2 62,20 59,20.2 56,20.6 44,23.1 39,23.8 20,25 -1,25.9z"/>
<path fill="#0000d2" d="M-1,-1 170,-1 170,150 -1,150 -1,98.6 12,100.1 54,101.8 82,104.1 92,104.7 102,104.9 117,104.8 123,104.5 128,103.8 130.9,103 133,101.8 133.8,101 134.5,100 136.6,95 137.9,93 139.6,91 142,88.6 144,86.9 149,84 150,83.1 150.7,82 152,79 152.8,75 153.2,70 153.4,64 153.1,61 152.7,60 151.7,58 148.5,54 139,43.2 126,29.8 121,25.2 117,21.9 113.1,20 110,18.9 107,18.6 105,19.1 95,22.7 91,23.3 86,23.7 83,23.7 81,23.4 73,21.6 66,19.5 62,19 56,19.5 44,21.5 39,22.1 26,22.8 -1,23.7z"/>
<path fill="#0000df" d="M-1,-1 170,-1 170,150 -1,150 -1,102.9 13,103.6 54,104.7 84,106.5 95,106.9 122,106.9 128,106.5 133,105.8 136,104.7 137.2,104 138.1,103 138.9,101 139.1,98 139.5,96 140.5,94 142,92.1 143.3,91 145,90 147,89.5 150,89.1 151,88.7 152,88 153.5,86 154.6,83 155.4,79 155.8,74 156.1,66 155.9,63 155.4,61 154.5,59 153,57 146,49.9 137,39.9 125,27.5 118.8,22 117,20.7 115,19.6 110,17.9 107,17.6 105,18.1 95,21.7 90,22.3 84,22.4 80,21.9 73,20.3 66,18.5 63,18 61,18 56,18.4 44,20 38,20.5 21,21.3 -1,22z"/>
<path fill="#0000ec" d="M-1,-1 170,-1 170,150 -1,150 -1,106.5 53,107.6 85,108.8 97,109.1 126,109 132,108.6 137,107.8 140,106.7 141.1,106 142,105 142.8,103 142.8,97 143.1,96 144,94.7 145,94 146,93.7 147,93.5 151,93.8 153,93.4 154,92.8 155,92 156.4,90 157.6,87 158.5,82 159,76 159.2,68 159.1,65 158.5,62 157.8,60 156.5,58 154.5,56 148,50.5 145,47.7 137,38.7 125,26.1 119,20.8 116,18.8 111,17.1 109,16.7 107,16.6 105,17.1 95,20.8 92,21 84,21.1 80,20.6 66,17.4 63,17 61,17 55,17.3 42,18.6 32,19.2 16,19.9 -1,20.3z"/>
<path fill="#0000f9" d="M-1,-1 170,-1 170,150 -1,150 -1,109.8 53,110.4 87,111.2 101,111.3 129,111.2 136,110.7 140,110 143,108.9 144.4,108 145.4,107 146.6,105 147.4,101 148,99.6 149,98.9 154,98.2 156,97.3 158,95.8 160.1,93 161.8,89 162.8,85 163.4,79 163.7,70 163.4,66 162.7,62 161.4,59 160,57.2 158,55.6 150,50.6 146,47.5 144,45.5 134,34.3 125,24.8 119.6,20 117,18.1 116,17.6 111,16 107,15.7 105,16.1 96,19.6 93,20 85,19.9 82,19.6 67,16.6 62,16 55,16.2 24,18 -1,18.7z"/>
<path fill="#0006ff" d="M-1,-1 170,-1 170,59.4 168,58.9 167,58.2 163.8,55 162.3,54 159.8,53 155,51.7 153,50.9 149,48.7 146,46.5 143.4,44 134,33.3 125,23.8 119.6,19 117,17.1 115,16.2 110,15 106.3,15 103.2,16 96,18.8 93,19.2 83,18.7 72,16.8 68.8,16 62,15.2 34,16 21,16.8 -1,17.2zM168.6,94 170,93.4 170,150 -1,150 -1,113.2 102,113.9 128,113.8 134,113.6 138,113.3 143,112.3 145,111.5 147,110.4 149,108.8 151.9,105 153,103.9 154.6,103 159,101 160.7,100 167,95z"/>
<path fill="#0013ff" d="M-1,-1 170,-1 170,54 168,54 166,53.7 155,50.7 152,49.5 148,47.2 146,45.7 144,43.9 138,36.9 125,23.1 119.2,18 116,16 111,14.7 107,14.5 104.5,15 96,18.3 95,18.6 93,18.7 84,18.2 73,16.4 66.1,15 62,14.7 42.1,15 21,15.9 -1,16.3zM166.4,103 170,102.4 170,150 -1,150 -1,116.7 120,116.9 131,116.8 137,116.6 140,116.3 143,115.7 147,114.3 149,113.3 151,112 155,108.2 157,106.8 161,104.9z"/>
<path fill="#0020ff" d="M-1,-1 170,-1 170,53 168,53 166,52.7 156,50.3 152,48.9 148,46.6 146,45.1 144,43.3 135,33.1 124.4,22 118.5,17 116.9,16 115,15.3 111,14.4 107,14.1 104,14.8 96,17.9 95,18.1 93,18.3 83,17.6 67,14.7 63,14.2 40,14.5 21,15.3 -1,15.6zM165.3,108 170,107.4 170,150 -1,150 -1,120.4 123,120.4 138,120.1 144,119.3 147,118.4 149,117.6 153,115.3 158,111.2 159.8,110 162,109z"/>
<path fill="#002dff" d="M-1,-1 170,-1 170,52.2 168,52.2 166,51.9 156,49.7 152,48.3 148,46 146,44.6 144,42.7 138,35.8 125,22 119,16.9 117,15.6 115.5,15 111,14 107,13.8 104,14.5 96,17.5 95,17.7 93,17.9 83,17.2 67,14.3 63,13.8 40,14 21,14.7 -1,14.9zM168.4,112 170,111.9 170,150 -1,150 -1,124.1 124,124.1 139,123.8 145,123 150,121.5 152,120.7 155,119 161,114.7 163,113.5 166,112.4z"/>
<path fill="#0039ff" d="M-1,-1 170,-1 170,51.5 168,51.5 166,51.2 156,49.1 152,47.7 148,45.4 146,44 144,42.2 137.8,35 125,21.6 119,16.5 116,14.8 111,13.7 107,13.5 104.4,14 96,17.1 95,17.4 93,17.6 89,17.4 83,16.8 67,13.8 63,13.4 39,13.5 22,14 -1,14.2zM165.2,119 168,118.3 170,118 170,150 -1,150 -1,127.9 124,127.9 139,127.6 145,127 148,126.4 151,125.5 154.8,124 162,120.4z"/>
<path fill="#0046ff" d="M-1,-1 170,-1 170,50.7 166,50.5 155,48.1 151,46.6 147,44.2 144,41.7 138,34.7 125,21.1 119,16.1 116,14.4 111,13.4 107,13.1 104,13.8 96,16.7 94,17.2 93,17.2 83,16.4 67,13.4 63,13 40,12.9 21,13.2 -1,13.3zM165.7,125 170,124.5 170,150 -1,150 -1,131.8 124,131.8 138,131.7 144,131.2 150,130.1 154,129 162,126z"/>
<path fill="#0053ff" d="M-1,-1 170,-1 170,50 168,50 165,49.6 155,47.5 151,46 147,43.7 144,41.1 138,34.2 125,20.6 119,15.7 116,14 111,13 107,12.8 104,13.5 96,16.4 94,16.8 93,16.8 88,16.5 82,15.8 67,12.9 63,12.4 41,12.1 -1,12.1zM163.3,131 167,130.4 170,130.1 170,150 -1,150 -1,136 124,136 138,135.9 144,135.5 149,134.8 153,133.9z"/>
<path fill="#0060ff" d="M-1,-1 170,-1 170,49.2 168,49.2 165,48.9 155,46.9 151,45.4 147,43.1 144,40.6 138,33.7 125,20.1 119,15.3 116,13.7 111,12.7 107,12.5 104,13.2 96,16 94,16.4 93,16.5 88,16.1 82,15.4 74,14 66,12.3 63,11.9 31.2,11 -1,10.7zM164.9,136 170,135.6 170,150 -1,150 -1,140.3 138,140.2 144,139.9 149,139.3z"/>
<path fill="#006cff" d="M-1,-1 170,-1 170,48.5 168,48.5 165,48.1 155,46.3 151,44.9 147,42.6 144,40.1 138,33.1 125,19.7 119.2,15 117.6,14 116,13.3 111,12.4 107,12.2 104,12.9 95,15.9 92,16.1 81.7,15 74,13.6 67.1,12 62,11.3 22.8,10 -1,9.8zM166.5,141 170,140.8 170,150 -1,150 -1,145.2 137,145.1 143,144.8 148,144.3 162,141.6z"/>
<path fill="#0079ff" d="M-1,-1 170,-1 170,47.8 165,47.4 155,45.7 151,44.3 147,42 144,39.6 138,32.6 125,19.2 119.8,15 118,13.8 116,12.9 110,12 106,12 104,12.6 96,15.3 94,15.7 93,15.7 87,15.3 80,14.3 74,13.2 64,11 40.2,10 -1,9.4zM168.2,147 170,146.9 170,150 158.7,150 160.2,149 162.7,148 166,147.3z"/>
<path fill="#0086ff" d="M-1,-1 170,-1 170,47.1 165,46.8 156,45.3 153,44.5 151,43.7 147,41.5 144,39 138,32.1 125,18.7 123,17 119,14 117.2,13 116,12.6 113,12 110,11.7 106,11.7 104,12.2 96,14.9 94,15.3 93,15.4 88.4,15 80.9,14 73,12.6 66,11 63,10.7 51,10 -1,8.9z"/>
<path fill="#0093ff" d="M-1,-1 170,-1 170,46.5 165,46.2 155,44.5 151,43.2 147,40.9 144,38.5 138,31.5 125,18.3 123,16.5 119.5,14 117.9,13 116,12.2 110,11.4 106,11.4 104,11.9 96,14.6 94,15 93,15 90,14.7 75,12.6 65,10.6 56.7,10 15,8.9 -1,8.7z"/>
<path fill="#009fff" d="M-1,-1 170,-1 170,45.9 167,45.9 164,45.5 155,44 151,42.6 147,40.4 144,37.9 138,31 130,23.1 125,17.8 123,16.1 120,13.9 118,12.7 116,11.9 111,11.2 107,11 104,11.6 96,14.2 93,14.6 90,14.2 85,13.3 74,12.1 66,10.6 60.7,10 51,9.6 15,8.6 -1,8.5z"/>
<path fill="#00acff" d="M-1,-1 170,-1 170,45.4 165,45.1 156,43.6 152,42.5 148,40.5 146,39.2 144,37.4 138,30.5 131,23.6 124,16.4 119.2,13 116,11.6 111,10.8 107,10.7 104,11.3 96,13.9 93,14.2 91,14 85,12.6 74,11.7 66,10.3 61,9.8 26,8.7 -1,8.3z"/>
<path fill="#00b9ff" d="M-1,-1 170,-1 170,44.8 165,44.5 156,43.1 152,42 148,39.9 146,38.6 144,36.9 138,29.9 131,23.1 124,15.9 119,12.5 116,11.2 111,10.5 107,10.4 105,10.7 96,13.5 93,13.8 91,13.5 85,11.9 74,11.3 65,10 61,9.6 29,8.5 12,8.1 -1,8z"/>
<path fill="#00c6ff" d="M-1,-1 170,-1 170,44.3 165,44 156,42.6 152,41.4 148,39.4 146,38.1 144,36.3 138,29.4 131,22.7 124,15.4 119,12.1 116,10.9 111,10.2 107,10.1 105,10.4 96,13.2 93,13.5 91,13.1 87,11.7 85,11.2 74,10.9 63,9.5 35,8.4 18,8.1 9,7.3 -1,7.1z"/>
<path fill="#00d2ff" d="M-0.7,-1 170,-1 170,43.8 165,43.5 156,42 152,40.9 148,38.9 146,37.5 144,35.8 138,28.9 131,22.2 126,16.8 124,14.9 119.4,12 116,10.6 111,9.9 107,9.8 105,10.1 96,12.8 93,13.1 91,12.6 87,11 85,10.5 74,10.6 65,9.5 54.5,9 51,8.6 32.1,8 14.6,7 9.1,5 4,2.5 1,0.9 -0.3,0z"/>
<path fill="#00dfff" d="M19.1,-1 170,-1 170,43.2 165,42.9 156,41.5 152,40.3 148,38.3 146,37 144,35.2 138,28.3 130,20.8 124.6,15 123,13.7 121,12.5 117,10.6 115,10.1 112,9.7 107,9.4 105,9.8 101,11.1 96,12.4 93,12.7 91,12.2 87,10.4 85,9.8 76,10.2 73,10.1 66,9.3 52,8.2 46.4,8 38,7.4 35.1,7 25.1,2 21,0.9 19.4,0z"/>
<path fill="#00ecff" d="M24.2,-1 170,-1 170,42.7 165,42.4 156,40.9 152,39.8 148,37.8 146,36.5 144,34.7 138.2,28 131,21.3 126,15.9 124,14 120.9,12 117,10.3 112,9.4 107,9.1 105,9.5 101,10.8 97,11.8 94,12.3 91.8,12 87,9.7 85,9.1 83,9.1 77,9.7 74,9.7 65.2,9 56.9,8 53.2,7 46,4.5 42,3.3 25.1,0z"/>
<path fill="#00f9ff" d="M41.8,-1 170,-1 170,42.2 165,41.9 156,40.4 152,39.2 148,37.2 146,35.9 144,34.1 138.7,28 130,19.8 124.5,14 121.6,12 117.2,10 115,9.5 111,8.9 107,8.7 104,9.4 99,11 96,11.7 94,12 92,11.7 87,9.1 85,8.4 83,8.4 76,9.3 70.9,9 64.6,8 59,6.7 56,5.5 48.1,2 45.4,1 43,0.4 42.1,0z"/>
<path fill="#06fff9" d="M44.5,-1 170,-1 170,41.6 166,41.5 156,39.8 152,38.7 148,36.7 146,35.3 144,33.6 138.3,27 130,19.4 125,13.9 122.4,12 118,9.9 116,9.3 112,8.6 109,8.3 107,8.3 106,8.4 101.5,10 97.7,11 95,11.5 93,11.5 91.4,11 87,8.3 85,7.5 83,7.5 75,8.5 70.8,8 63,5.3 45.1,0z"/>
<path fill="#13ffec" d="M48.5,-1 170,-1 170,41.2 168,41.1 165,40.8 156,39.2 152,38.1 148,36.1 146,34.8 144,33 138.8,27 131,19.9 124.4,13 123,12 121.3,11 118,9.6 112,8.2 109,7.8 107,7.8 105,8.2 101,9.8 98,10.6 95,11.1 93,11.1 91,10.3 87,7.3 85,6.3 83,6.1 75,6 73,5.8 70,5 63,2.7 49.4,0z"/>
<path fill="#20ffdf" d="M61.5,-1 170,-1 170,40.7 166,40.5 156,38.7 152,37.4 148,35.4 146,34.2 144,32.4 138.4,26 130,18.5 125,13.1 123,11.6 119,9.6 116,8.6 111,7.5 109,7.2 107,7.1 105,7.6 100,9.7 96,10.6 94,10.8 93,10.8 91,9.8 87,6.2 85,4.9 82,4.1 75,3 66.4,1 64,0.7 62.1,0z"/>
<path fill="#2dffd2" d="M74.3,-1 170,-1 170,40.2 166,40 155.8,38 151,36.4 147,34.2 144,31.8 138.9,26 130,18 125,12.7 123,11.2 120,9.7 117,8.6 112,7.1 108,6.4 106,6.6 101,9 99,9.6 95,10.4 93,10.4 92,10 90.7,9 87,5.1 85,3.4 81.7,2 76,0.4 75.1,0 75,-0.3z"/>
<path fill="#39ffc6" d="M78.2,-1 170,-1 170,39.8 166,39.5 156,37.4 151,35.7 147,33.6 144,31.2 138.4,25 130,17.6 125,12.3 123,10.8 121,9.8 118,8.6 111,6.3 108,5.7 106,6 102,8.1 100,8.9 96,9.9 94,10.1 93,10 92,9.5 90.3,8 87,3.8 85,1.9 82.6,1 78.8,0z"/>
<path fill="#46ffb9" d="M83.8,-1 170,-1 170,39.3 168,39.3 166,39 156,36.8 151,35.1 147,33 144,30.6 139,25 130,17.1 125,11.9 123,10.4 121,9.4 111,5.7 108,5 106,5.3 102,7.6 100,8.5 96,9.5 94,9.7 93,9.6 92,9 90.9,8 86,1.5 84.1,0z"/>
<path fill="#53ffac" d="M85.1,-1 170,-1 170,38.8 168,38.8 166,38.5 156,36.2 151,34.5 147,32.4 144,30 138.5,24 130,16.7 125,11.5 124,10.7 122,9.5 110,4.7 108,4.3 107,4.3 106,4.6 102,7.1 100,8.1 96,9.1 94,9.3 93,9.2 92,8.6 90.4,7 87,2 85.2,0z"/>
<path fill="#60ff9f" d="M85.5,-1 170,-1 170,38.4 168,38.4 166,38.1 156,35.6 151,33.8 147,31.8 144,29.4 139,23.9 130,16.2 125,11.1 123,9.6 121,8.6 115,6.4 110,4.1 108,3.6 107,3.6 106,3.9 101.4,7 100,7.7 96,8.7 94,9 93,8.8 92,8.2 90.8,7 87,1.6 85.7,0z"/>
<path fill="#6cff93" d="M86,-1 170,-1 170,37.9 167,37.8 157,35.3 152,33.6 147,31.1 144,28.8 138.6,23 131,16.7 125,10.7 122,8.7 114.9,6 110,3.5 108,2.9 107,2.9 106,3.3 102,6.2 100,7.3 96,8.4 94,8.6 93,8.4 92,7.8 90,5.5 86.1,0z"/>
<path fill="#79ff86" d="M86.3,-1 170,-1 170,37.4 167,37.3 157,34.7 151,32.6 147,30.5 144,28.2 139,22.8 131,16.2 125,10.3 123,8.8 121,7.8 115.9,6 113.8,5 110,2.8 108,2.2 107,2.2 106,2.6 101.6,6 100,6.8 95.9,8 94,8.2 93,8.1 92,7.4 90,5.1 86.4,0z"/>
<path fill="#86ff79" d="M86.6,-1 170,-1 170,37 167,36.8 157,34.1 151,31.9 147,29.9 144,27.6 138.7,22 131,15.7 126,10.7 124,8.9 123,8.2 121,7.2 115,5 110,2.1 108,1.5 107,1.5 106,1.9 105,2.6 100.8,6 98,7 94,7.8 93,7.6 92,7 91,6 86.7,0z"/>
<path fill="#93ff6c" d="M86.9,-1 170,-1 170,36.4 167,36.3 158,33.9 152,31.7 147,29.3 144,27 138,20.9 130.7,15 124,8.1 121,6.3 115,3.9 111,1.8 109,1 108,0.7 107,0.8 105,1.9 102,4.5 100,5.8 96.3,7 94,7.3 93,7.2 92,6.6 91,5.6 87,0z"/>
<path fill="#9fff60" d="M87.2,-1 170,-1 170,35.9 167,35.8 158,33.3 152,31.1 147,28.7 144,26.4 138,20.4 131,14.8 129.1,13 126,9.3 124,7.2 122,5.8 119,4.2 111.3,1 108.2,0 108,-0.3 105,1.3 102,3.9 100,5.2 96,6.5 94,6.8 93,6.7 92,6.1 90,3.8 87.3,0z"/>
<path fill="#acff53" d="M87.5,-1 106.3,-1 106,0 105,0.6 101,4 98,5.3 95.9,6 94,6.3 93,6.2 92,5.6 91,4.6 87.6,0zM110.4,-1 170,-1 170,35.4 167,35.2 158,32.7 152,30.5 147,28 144,25.8 138,20 130.6,14 128.7,12 125,7.2 123,5.3 121,4 118,2.4 111,0z"/>
<path fill="#b9ff46" d="M87.8,-1 105.2,-1 104.9,0 100.9,3 96.7,5 94,5.8 93,5.7 92,5.1 91,4.2 87.9,0zM114.8,-1 170,-1 170,34.8 167,34.7 158,32.2 151,29.5 146,26.8 144,25.2 138,19.5 131,13.9 129.2,12 125,6.3 123,4.2 119.6,2 115.2,0z"/>
<path fill="#c6ff39" d="M88.1,-1 100.8,-1 100.6,0 96.3,4 95,4.9 94,5.2 93,5.2 92,4.6 91,3.7 88.2,0zM116.7,-1 170,-1 170,34.3 168,34.3 166,33.9 158,31.6 151,28.8 146,26.1 144,24.6 138,19.1 133,15.2 130.5,13 128.9,11 126,6.6 124,4 123,3.2 121.2,2 117,0z"/>
<path fill="#d2ff2d" d="M88.4,-1 99.4,-1 99.3,0 96.5,3 95,4.3 94,4.7 93,4.6 92,4.1 91,3.2 88.5,0zM118.2,-1 170,-1 170,33.8 168,33.7 166,33.4 158,31.1 151,28.2 146,25.5 144,24 138,18.6 133,14.8 131,13 128.6,10 126,5.7 124,2.9 122,1.5 118.6,0z"/>
<path fill="#dfff20" d="M88.8,-1 98.8,-1 98.7,0 95.8,3 95,3.7 94,4.1 93,4.1 92,3.6 91,2.7 88.9,0zM120.2,-1 170,-1 170,33.2 167,33.1 159,30.8 151.9,28 149,26.6 146,24.9 144,23.4 138,18.1 133,14.4 131,12.6 129,10 126,4.8 124,1.9 123,1.1 120.6,0z"/>
<path fill="#ecff13" d="M89.3,-1 98.2,-1 98,0.1 95,3 94,3.4 93,3.3 92,3 90,0.9 89.5,0zM122.6,-1 170,-1 170,32.7 168,32.7 166,32.3 158.2,30 151,27 148,25.4 145,23.6 138,17.7 133,13.9 130.9,12 128.7,9 125,2.4 122.9,0z"/>
<path fill="#f9ff06" d="M90.8,-1 97,-1 96.6,0 96,0.5 94,1.3 93,1.2 92,0.8 90.9,0zM123.4,-1 170,-1 170,32.1 168,32.1 166,31.7 163.1,31 158,29.3 150.3,26 145,22.9 138,17.2 133,13.4 131,11.6 129,8.9 125,1.8 123.5,0z"/>
<path fill="#fff900" d="M123.9,-1 170,-1 170,31.5 168,31.4 165.3,31 158.7,29 151.6,26 148,24.1 145,22.3 138,16.7 133.1,13 131,11.1 129,8.4 126,3 124,0z"/>
<path fill="#ffec00" d="M124.2,-1 170,-1 170,30.7 168,30.7 166,30.4 161,29 158.1,28 151,25 145,21.6 133.8,13 131,10.5 129,7.9 126,2.5 124.3,0z"/>
<path fill="#ffdf00" d="M124.5,-1 170,-1 170,29.9 168,29.9 166,29.5 162,28.5 158,27.2 151,24.2 145,20.8 134,12.5 131,9.9 129,7.3 124.7,0z"/>
<path fill="#ffd200" d="M124.9,-1 170,-1 170,29 168,29 166,28.7 162,27.7 158,26.4 151,23.5 145,20.1 134.1,12 131,9.3 129,6.7 125,0z"/>
<path fill="#ffc600" d="M125.2,-1 170,-1 170,28.2 168,28.1 166,27.8 158,25.6 151,22.7 145,19.3 135,12.1 131,8.7 129,6.2 125.3,0z"/>
<path fill="#ffb900" d="M125.4,-1 170,-1 170,27.3 168,27.3 166,27 161,25.7 157,24.4 151,21.9 145,18.6 135,11.5 131,8.1 129,5.6 126,0.8 125.5,0z"/>
<path fill="#ffac00" d="M125.7,-1 170,-1 170,26.4 168,26.4 166,26.1 161,24.8 157,23.6 151,21.2 145,17.8 136,11.6 131,7.4 129,5 127,1.9 125.8,0z"/>
<path fill="#ff9f00" d="M126,-1 170,-1 170,25.6 168,25.6 166,25.2 157,22.8 152,20.9 145,17.1 137,11.7 134,9.4 131,6.8 129,4.4 127,1.4 126.1,0z"/>
<path fill="#ff9300" d="M126.4,-1 170,-1 170,24.7 168,24.7 166,24.4 161,23.2 156,21.7 151,19.6 145,16.3 141,13.9 137,11.1 134,8.8 131,6.2 129,3.9 127,0.9 126.5,0z"/>
<path fill="#ff8600" d="M126.7,-1 170,-1 170,23.9 168,23.8 166,23.5 160,22.1 156,20.9 151.3,19 144,15 140,12.5 136.4,10 131,5.5 129,3.2 127,0.3 126.8,0z"/>
<path fill="#ff7900" d="M127.1,-1 170,-1 170,23 167,22.9 163,21.9 156,20 151,18 145.4,15 138.8,11 136,9 132.4,6 130,3.8 129,2.5 127.2,0z"/>
<path fill="#ff6c00" d="M127.7,-1 170,-1 170,22.2 167,22 156,18.8 151,16.9 144,13.3 138.6,10 133.5,6 131,3.8 129,1.7 127.8,0z"/>
<path fill="#ff6000" d="M128.4,-1 170,-1 170,21.3 167,21.1 155,17.2 150,15.2 144,12.3 139,9.3 135.9,7 129.3,1 128.5,0z"/>
<path fill="#ff5300" d="M129.3,-1 170,-1 170,20.5 168,20.4 167,20.2 161,17.9 154,15.5 148,13.2 143,10.7 139,8.4 136,6.1 130,0.6 129.5,0z"/>
<path fill="#ff4600" d="M130.3,-1 170,-1 170,19.6 168,19.6 167,19.3 161,16.7 148,12 143,9.7 140,8 137,5.9 130.4,0z"/>
<path fill="#ff3900" d="M131,-1 170,-1 170,18.8 168,18.7 167,18.4 160,15.1 148,10.9 143.6,9 140,7 137,5 131.1,0z"/>
<path fill="#ff2d00" d="M131.6,-1 170,-1 170,17.9 168,17.9 167,17.5 163,15.3 159,13.5 153,11.3 147,9.5 144,8.2 140,6 137,4.1 132,0.3 131.7,0z"/>
<path fill="#ff2000" d="M132.2,-1 170,-1 170,17.1 167.9,17 167,16.6 162,13.7 158,11.9 154,10.4 148,8.7 145,7.6 142,6 134,1.1 132.5,0z"/>
<path fill="#ff1300" d="M133.1,-1 170,-1 170,16.2 168,16.1 167,15.7 162,12.5 156,9.7 152,8.4 146.4,7 144.1,6 139,2.9 133.5,0z"/>
<path fill="#ff0600" d="M134.9,-1 170,-1 170,15 168,14.9 161,10.4 155,7.2 153,6.6 147,5.5 145,4.9 139.8,2 135.3,0z"/>
<path fill="#f90000" d="M138,-1 170,-1 170,10.3 168,10.2 167,9.9 158.3,6 155,4.8 153,4.4 147,3.7 145,3.2 139,0.5 138.2,0z"/>
<path fill="#ec0000" d="M139.6,-1 170,-1 170,5.1 167,5 155,2.4 145,1.6 140,0.1z"/>
<path fill="#df0000" d="M146.8,-1 170,-1z"/>
</g></g>
<rect x="504.0" y="18.0" width="9.1" height="147.3" fill="url(#jet)"/>
<text class="t" x="326.7" y="21.3" text-anchor="end">0</text>
<text class="t" x="326.7" y="58.1" text-anchor="end">500</text>
<text class="t" x="326.7" y="94.9" text-anchor="end">1000</text>
<text class="t" x="326.7" y="131.7" text-anchor="end">1500</text>
<text class="t" x="326.7" y="168.6" text-anchor="end">2000</text>
<text class="t" x="329.6" y="176.6" text-anchor="middle">0</text>
<text class="t" x="371.5" y="176.6" text-anchor="middle">0.5</text>
<text class="t" x="413.4" y="176.6" text-anchor="middle">1</text>
<text class="t" x="455.3" y="176.6" text-anchor="middle">1.5</text>
<text class="t" x="497.2" y="176.6" text-anchor="middle">2</text>
<text class="b" x="516.6" y="20.8">1480</text>
<text class="b" x="516.6" y="39.2">1485</text>
<text class="b" x="516.6" y="57.6">1490</text>
<text class="b" x="516.6" y="76.1">1495</text>
<text class="b" x="516.6" y="94.5">1500</text>
<text class="b" x="516.6" y="112.9">1505</text>
<text class="b" x="516.6" y="131.3">1510</text>
<text class="b" x="516.6" y="149.7">1515</text>
<text class="b" x="516.6" y="168.1">1520</text>
<text class="l" style="font-size:10px" x="413.8" y="189.3" text-anchor="middle">Range(m)</text>
<text class="t" x="497.9" y="190.8" text-anchor="end"><tspan font-size="10.4">×</tspan><tspan font-size="9.2" dx="0.3">10</tspan><tspan dy="-3.9" font-size="6.9">5</tspan></text>
<text class="l" transform="translate(305.3,91.7) rotate(-90)" text-anchor="middle">Depth(m)</text>
<text class="c" transform="translate(542.9,91.5) rotate(-90)" text-anchor="middle">Sound speed (m·s-1)</text>
<text class="p" x="332.6" y="16.2">(b)</text>
<!-- panel (c) -->
<mask id="mc" maskUnits="userSpaceOnUse" x="37.0" y="221.2" width="171.2" height="151.8"><rect x="39.00" y="223.20" width="167.20" height="147.80" fill="#fff"/></mask>
<g mask="url(#mc)"><g transform="translate(39.0,223.2)">
<rect x="-1" y="-1" width="169.2" height="149.8" fill="#000093"/>
<path fill="#00009f" d="M-1,-1 170,-1 170,150 -1,150 -1,90.6 2,91.4 8.8,94 13,95.2 19,96.3 27.4,97 43,97.4 75,97.3 83,96.8 87,96.3 90,95.6 93,94.7 97,93.1 102.9,90 105.9,88 109.7,85 114.8,80 119,74.8 120.7,72 122,69.3 123,66.4 123.5,64 124,59 123.7,57 123.2,56 121.1,54 102,40.5 86.1,28 76.5,21 73.1,19 71,18.3 62,16.6 58,15.3 57,14.8 54,12 50,9 48.3,8 47,7.6 45,7.4 41.3,8 26.4,13 13.7,18 7,21 0,24.5 -1,24.5z"/>
<path fill="#0000ac" d="M-1,-1 170,-1 170,150 -1,150 -1,96.5 2,97.3 9,99.9 12,100.7 17,101.4 24,101.9 39,102.2 77,102.1 86,101.7 92,100.7 95,99.8 98,98.6 101.1,97 106.2,94 113.4,89 117.1,86 120.4,83 127.1,76 130,72 131,70 132,67 132.5,64 132.6,62 132.2,60 131.5,59 129.3,57 124.9,54 115,48 108,43.2 98,36 87.9,28 76.8,20 73.4,18 71,17.1 63,15.7 59,14.6 57,13.6 54,10.9 50.1,8 48.4,7 47,6.5 45,6.4 41,7 28.6,11 15.2,16 7,19.6 0,22.9 -1,23z"/>
<path fill="#0000b9" d="M-1,-1 170,-1 170,150 -1,150 -1,100.6 1,101.1 6.3,103 10,103.8 15,104.4 22,104.8 39,105 80,104.9 89,104.5 95,103.6 97.1,103 99.5,102 104,99.3 117.3,90 127,82.2 131.6,79 134,77 135.8,75 137.3,72 138.2,69 138.7,65 138.3,63 137.8,62 135.9,60 132.2,57 127.7,54 117,47.7 111,43.9 99,35.4 86.5,26 76.3,19 74.6,18 72,16.8 68.8,16 61,14.5 58,13.5 57,12.9 53.7,10 51,8 49.4,7 47.3,6 46,5.9 43.3,6 38.9,7 23.3,12 12.3,16 1,20.6 0,20.9 -1,21z"/>
<path fill="#0000c6" d="M-1,-1 170,-1 170,150 -1,150 -1,104.8 5,106 10,106.7 16,107 25,107.2 84,107.2 93,106.8 99,105.8 101.7,105 104,103.8 112.1,97 124,88.4 127,86.5 130,85 137,82.7 140,80.9 142,78.8 143.5,76 144.6,72 145,68 144.9,67 144.6,66 143.1,64 138.5,60 134,56.5 128.7,53 117,46.3 112,43.1 98,33.4 87.8,26 77.2,19 73.6,17 71,16 62,14.1 58,12.9 57,12.4 54,9.8 51.6,8 50.1,7 48,6 46,5.6 44,5.7 41.6,6 37.7,7 24.2,11 1,18.7 0,19 -1,19z"/>
<path fill="#0000d2" d="M-1,-1 170,-1 170,150 -1,150 -1,108.3 8.6,109 18,109.3 80,109.3 95,109 100,108.6 104,107.8 106.7,107 109,105.7 110.5,104 113.3,100 115.3,98 121,93.8 126,90.6 128,89.7 131,89 138,88.5 141.5,88 144,87.2 146.2,86 147.4,85 149,83.2 150.7,80 151.7,76 152.2,71 152,70 151.6,69 150.2,67 146.9,64 141.6,60 130,52.3 118,45.4 113,42.3 86.1,24 76.4,18 73,16.3 70,15.4 62,13.6 58,12.5 57,11.9 53.5,9 48.8,6 46,5.4 44,5.5 40.2,6 2,16.5 0,17 -1,17z"/>
<path fill="#0000df" d="M-1,-1 170,-1 170,150 -1,150 -1,110.9 19,111.3 88,111.3 101,110.9 105,110.5 109,109.9 112.2,109 114.2,108 115,107.3 115.9,106 116.9,102 117.4,101 118.8,99 122.3,96 126,93.8 128,93.1 131,92.6 140,93.3 145,93.2 149,92.4 151,91.7 153,90.6 155,89 155.9,88 157.7,85 159,81 159.5,78 159.7,75 159.4,73 158.9,72 157.3,70 155,67.7 151,64.3 145.2,60 135.6,54 115,42.1 90.7,26 85.9,23 75.4,17 73,15.9 70.3,15 61,12.9 58,12 57,11.5 54.1,9 51.1,7 49,5.9 47,5.3 46,5.1 43,5.3 38.9,6 13,12.5 1,15.2 -1,15.5z"/>
<path fill="#0000ec" d="M-1,-1 170,-1 170,77.8 169.1,77 168,76.6 167,76 160.7,68 158,65.5 154.5,63 142.5,56 118,42.5 112,38.8 100.4,31 90.8,25 80.1,19 74.1,16 70,14.5 61,12.5 58,11.6 57,11.1 53.1,8 49.7,6 47,5 46,5 44,5 39,5.8 14,11.2 1,13.7 -1,13.9zM169.6,81 170,80.1 170,150 -1,150 -1,113.1 19,113.3 93,113.3 105,113 110,112.5 114,111.9 118,110.9 120.2,110 121.5,109 122.2,108 122.5,107 121.9,103 122.2,101 122.7,100 124,98.5 125,97.7 127,96.6 129,96.1 131,96 142,97.6 148,97.9 151,97.6 154.3,97 157,96.1 159.4,95 162.1,93 164.7,90 166.6,87z"/>
<path fill="#0000f9" d="M-1,-1 170,-1 170,69.8 168,69.7 167,69.3 162.1,64 160,62.4 157.7,61 138,51.7 126,45.5 114,38.7 101,30 94.3,26 87.1,22 75,16 69.4,14 60,11.8 58,11.2 57,10.8 53.6,8 50.2,6 47.7,5 46,4.8 41,5.2 18,9.6 5,11.7 -1,12.4zM166.8,99 170,98.3 170,150 -1,150 -1,115.3 94,115.4 106,115.2 114,114.7 119,114 123,113.1 126.2,112 127.8,111 128.8,110 129.3,109 129.3,108 129.1,107 127.8,104 127.6,103 127.6,102 128,101 129.5,100 131,99.7 133,99.8 144,101.7 148,102 152,102 156,101.7 159,101.3 162,100.5z"/>
<path fill="#0006ff" d="M-1,-1 170,-1 170,63.5 168,63.5 167,63.2 162.9,60 161.1,59 156.2,57 149,54.7 144,52.7 137,49.7 128,45.4 121,41.6 114,37.5 102.6,30 97.6,27 88.4,22 80.2,18 75.9,16 70.7,14 58,10.9 57,10.5 54,8 50.6,6 48.3,5 46,4.7 40.8,5 32,6.7 29.4,7 13,9.7 4,10.8 -1,11.2zM164.8,105 170,104.5 170,150 -1,150 -1,117.7 96,117.8 107,117.6 115,117.2 120,116.8 125,116 129.5,115 132.6,114 135.1,113 136.8,112 138,111 138.8,110 140,107.8 141,107.1 142,106.7 145,106.4 158,105.8z"/>
<path fill="#0013ff" d="M-1,-1 170,-1 170,60.6 167,60.5 160,57.5 145,52.1 134,47.4 128,44.5 120,40.3 113,36.2 100.4,28 93.2,24 87.4,21 76.6,16 71.6,14 68,12.9 58,10.6 57,10.2 54.3,8 52.7,7 48.7,5 46,4.6 39.5,5 32,6.5 27.4,7 25,7.5 20.9,8 18,8.6 3,10.4 -1,10.7zM167.5,109 170,108.9 170,150 -1,150 -1,120.6 99,120.6 110,120.4 118,120 126,119.2 136,117.3 141,116.1 144.4,115 151.3,112 154.1,111 159,110z"/>
<path fill="#0020ff" d="M-1,-1 170,-1 170,59.7 167,59.5 160,56.7 145,51.4 135,47.2 127,43.4 120,39.6 113,35.6 101.1,28 93.9,24 88.1,21 77.3,16 72.3,14 68,12.7 58,10.4 57,9.9 53,7 49,5 46,4.5 39,4.9 31,6.4 17,8.4 -1,10.3zM163.7,114 167,113.4 170,113.1 170,150 -1,150 -1,123.8 100,123.8 111,123.7 119,123.4 130,122.3 144,119.9 152,117.9z"/>
<path fill="#002dff" d="M-1,-1 170,-1 170,58.8 167,58.7 146,51.1 135,46.6 128,43.3 121,39.6 113,35 100.1,27 92.7,23 86.7,20 78,16 72,13.6 66.2,12 58,10.1 57,9.7 53.3,7 49,4.9 46,4.4 39,4.8 30,6.3 16,8.2 4,9.5 -1,9.9zM167.3,119 170,118.7 170,150 -1,150 -1,127.2 101,127.2 120,126.8 132,125.8 147,123.8 156.2,122z"/>
<path fill="#0039ff" d="M-1,-1 170,-1 170,58 167,57.9 166,57.6 147,50.8 135,45.9 128,42.7 121,39 113,34.5 100,26.6 87.4,20 78.7,16 72,13.4 67.2,12 58,9.9 57,9.5 53.6,7 49,4.8 46,4.3 39,4.7 18,7.7 3,9.3 -1,9.6zM166.2,125 170,124.6 170,150 -1,150 -1,130.7 100,130.7 119,130.4 130,129.8 145,128.3 155,127z"/>
<path fill="#0046ff" d="M-1,-1 170,-1 170,57.2 167,57.1 165,56.4 148,50.5 135,45.3 128,42 121,38.4 113,34 99.7,26 87,19.5 77,15 72,13.1 68,12 58,9.7 57,9.3 53.8,7 49,4.7 46,4.1 40,4.5 17,7.5 -1,9.3zM166.1,130 170,129.7 170,150 -1,150 -1,134.3 100,134.3 118,134.2 128,133.7 144,132.5 155,131.4z"/>
<path fill="#0053ff" d="M-1,-1 170,-1 170,56.3 167,56.2 161,54.4 148,49.8 136,45.1 129,41.9 122,38.4 113,33.5 100,25.8 92,21.6 86,18.7 77,14.7 72,12.9 68,11.7 58,9.5 57,9.1 54,6.9 49,4.6 46,4 43,4.2 16,7.4 -1,8.9zM163.1,135 170,134.5 170,150 -1,150 -1,138.2 117,138.1 127,137.8 142,136.9 153,136z"/>
<path fill="#0060ff" d="M-1,-1 170,-1 170,55.5 167,55.4 159,53 148,49.1 136,44.4 129,41.3 122,37.8 113,33 100,25.4 93,21.8 86,18.4 77,14.5 72,12.6 68,11.5 58,9.3 57,8.9 54,6.8 49,4.5 46.8,4 43.7,4 16,7.2 -1,8.6zM158.2,140 170,139.2 170,150 -1,150 -1,142.3 115,142.2 135,141.5z"/>
<path fill="#006cff" d="M-1,-1 170,-1 170,54.7 167,54.6 159,52.4 149,48.8 136,43.8 129,40.7 122,37.3 113,32.5 99.9,25 91,20.4 85,17.6 78,14.6 72,12.4 68,11.3 58,9.1 57,8.7 54,6.7 49,4.4 46,3.9 42.4,4 17,6.8 -1,8.3zM166.4,144 170,143.9 170,150 -1,150 -1,147.3 114,147.1 132,146.4 148,145.4z"/>
<path fill="#0079ff" d="M-1,-1 170,-1 170,53.9 167,53.8 166,53.6 159,51.7 151,48.9 137,43.5 130,40.5 122,36.7 113,32 100,24.7 86,17.7 78,14.3 72,12.1 67,10.8 58,8.9 57,8.5 54,6.5 49,4.3 46,3.8 42,3.9 17,6.6 -1,8z"/>
<path fill="#0086ff" d="M-1,-1 170,-1 170,53.1 167,53 165,52.7 158,50.8 149,47.6 136,42.5 129,39.5 123,36.6 113,31.5 100,24.3 86,17.4 77,13.6 72,11.9 67,10.6 58,8.7 57,8.3 54,6.4 49,4.2 46,3.7 42,3.9 16,6.5 -1,7.7z"/>
<path fill="#0093ff" d="M-1,-1 170,-1 170,52.6 167,52.5 166,52.4 159,50.5 152,48.1 137,42.4 130,39.4 123,36.1 114,31.5 99,23.4 91,19.4 85,16.6 77,13.3 72,11.6 68,10.6 58,8.5 57,8.1 53.5,6 49,4.1 46,3.6 42,3.8 15,6.3 -1,7.4z"/>
<path fill="#009fff" d="M-1,-1 170,-1 170,52.1 167,52 160,50.2 152,47.5 138,42.2 130,38.9 123,35.6 113,30.5 100,23.5 92,19.5 85,16.3 77,13.1 72,11.4 58,8.3 57,7.9 53.8,6 49,4.1 46,3.5 42,3.7 15,6.1 -1,7.1z"/>
<path fill="#00acff" d="M-1,-1 170,-1 170,51.7 167,51.6 160,49.7 152,47 139,42.1 130,38.3 123,35.1 113,30.1 100,23.1 86,16.4 79,13.5 73,11.4 69,10.3 58,8.1 57,7.7 54,6 49,4 46,3.5 42,3.6 16,5.8 -1,6.8z"/>
<path fill="#00b9ff" d="M-1,-1 170,-1 170,51.2 167,51.1 159,48.8 147,44.6 134,39.5 127,36.4 120,33.1 113,29.6 100.6,23 89,17.3 80,13.6 73,11.1 69,10.1 58,7.8 57,7.5 54,5.8 51,4.6 49,3.9 47,3.5 41,3.6 16,5.6 -1,6.5z"/>
<path fill="#00c6ff" d="M-1,-1 170,-1 170,50.8 167,50.7 159,48.3 146,43.6 134,39 127,35.9 119,32.1 101,22.8 90,17.4 82,14 73.5,11 69.7,10 58,7.6 51,4.5 49,3.8 47,3.4 41,3.5 16,5.4 -1,6.2z"/>
<path fill="#00d2ff" d="M-1,-1 170,-1 170,50.3 167,50.2 159.9,48 147,43.5 134,38.4 127,35.4 119,31.6 101,22.4 89.9,17 82.9,14 74.5,11 70,9.8 58,7.4 51,4.4 49,3.7 47,3.3 41,3.4 16,5.2 -1,5.9z"/>
<path fill="#00dfff" d="M-1,-1 170,-1 170,49.9 167,49.8 161.5,48 147,42.9 134,37.9 127,34.9 119,31.1 101,22 89,16.2 82,13.3 75,10.9 70,9.6 58,7.2 51,4.3 49,3.6 47,3.2 39,3.4 14,5.1 -1,5.6z"/>
<path fill="#00ecff" d="M-1,-1 170,-1 170,49.4 167,49.3 166,49 148,42.8 135,37.8 127,34.4 119,30.7 101,21.6 89.4,16 83,13.3 75,10.6 70,9.3 58,7 50,3.8 47,3.1 39,3.3 10.8,5 -1,5.2z"/>
<path fill="#00f9ff" d="M-1,-1 170,-1 170,49 167,48.8 166,48.5 147,41.9 135,37.2 127,33.8 118,29.7 100.6,21 89,15.4 83,13 75,10.3 70,9.1 58,6.8 50,3.7 47,3.1 40,3.1 12,4.6 -1,4.8z"/>
<path fill="#06fff9" d="M-1,-1 170,-1 170,48.5 167,48.4 166,48.1 147,41.4 137,37.5 128,33.7 118,29.2 88.9,15 84,13 75,10 70.9,9 58,6.6 50,3.6 47,3 40,3 18,4.1 -1,4.3z"/>
<path fill="#13ffec" d="M-1,-1 170,-1 170,48.1 167,47.9 166,47.6 148,41.2 138,37.4 128,33.2 118,28.7 89,14.7 84,12.7 75.8,10 71,8.8 58,6.4 50,3.5 47,2.9 42,2.9 17,3.8 -1,3.8z"/>
<path fill="#20ffdf" d="M-1,-1 170,-1 170,47.6 167,47.5 147,40.4 140,37.7 128,32.7 118,28.2 89,14.3 84,12.3 76.7,10 71,8.6 58,6.2 50,3.4 47,2.8 20,3.3 -1,3.3z"/>
<path fill="#2dffd2" d="M-1,-1 170,-1 170,47.2 167,47 148,40.3 141,37.6 117,27.3 89,14 84.1,12 77.7,10 71,8.4 58,6 50,3.3 47,2.7 30,3 -1,3z"/>
<path fill="#39ffc6" d="M-1,-1 170,-1 170,46.7 167,46.6 143,37.9 116,26.4 89,13.6 85,12 78.7,10 71,8.1 58,5.8 50,3.2 47,2.6 30,2.8 -1,2.8z"/>
<path fill="#46ffb9" d="M-1,-1 170,-1 170,46.3 167,46.1 143,37.5 115,25.4 89,13.2 85,11.6 79.7,10 71.5,8 58,5.6 50,3.1 47,2.5 30,2.7 -1,2.6z"/>
<path fill="#53ffac" d="M-1,-1 170,-1 170,45.8 167,45.7 144,37.4 115,25 89.3,13 85,11.3 80.8,10 71,7.7 58,5.5 50.1,3 47,2.4 30,2.6 -1,2.5z"/>
<path fill="#60ff9f" d="M-1,-1 170,-1 170,45.4 167,45.2 144.1,37 114,24.1 90,12.9 86,11.3 81.9,10 71,7.5 58,5.3 50.5,3 47,2.3 -1,2.3z"/>
<path fill="#6cff93" d="M-1,-1 170,-1 170,44.9 167,44.8 145,36.9 129.3,30 114,23.6 88.6,12 85,10.6 81,9.5 71,7.3 57,4.9 50.9,3 47,2.2 -1,2.2z"/>
<path fill="#79ff86" d="M-1,-1 170,-1 170,44.5 167,44.3 145,36.4 130.5,30 113,22.7 89.4,12 85,10.3 81,9.2 70.8,7 57,4.8 51.2,3 47,2.1 -1,2z"/>
<path fill="#86ff79" d="M-1,-1 170,-1 170,44 167,43.9 145.1,36 129.3,29 111,21.4 88,11.1 85.1,10 81.5,9 71.9,7 57,4.6 51.6,3 47,2 -1,1.9z"/>
<path fill="#93ff6c" d="M-1,-1 170,-1 170,43.6 167,43.5 146,35.9 130.3,29 112,21.5 88.5,11 82.5,9 72,6.8 57,4.5 52,3 47,1.9 -1,1.9z"/>
<path fill="#9fff60" d="M-1,-1 170,-1 170,43.2 167,43.1 146,35.4 128.9,28 113,21.5 89.2,11 83,8.9 72,6.6 57,4.4 52,2.9 48.2,2 47,1.9 -1,1.8z"/>
<path fill="#acff53" d="M-1,-1 170,-1 170,42.8 167,42.7 146,35 129.9,28 113,21.1 89.9,11 86,9.5 83,8.7 72,6.4 58,4.4 49,2.1 47,1.8 -1,1.8z"/>
<path fill="#b9ff46" d="M-1,-1 170,-1 170,42.4 167,42.3 147,34.9 130,27.7 113,20.8 90,10.8 86,9.3 83,8.4 72,6.3 58,4.3 49,2 47,1.8 -1,1.7z"/>
<path fill="#c6ff39" d="M-1,-1 170,-1 170,42 167,41.9 147,34.5 130,27.3 113,20.4 90,10.5 86,9 83,8.2 71.6,6 58,4.1 49.4,2 47,1.7 -1,1.7z"/>
<path fill="#d2ff2d" d="M-1,-1 170,-1 170,41.6 167,41.5 148,34.4 113,20 90,10.3 86,8.8 83.1,8 72.8,6 58,4 49.7,2 47,1.6 -1,1.6z"/>
<path fill="#dfff20" d="M-1,-1 170,-1 170,41.2 167,41.1 150.8,35 114,20.1 91,10.4 87,8.9 83,7.7 73,5.8 58,3.9 50.1,2 47,1.6 -1,1.5z"/>
<path fill="#ecff13" d="M-1,-1 170,-1 170,40.8 167,40.7 154.5,36 114.7,20 90,9.7 84,7.8 74,5.8 57,3.6 50.4,2 47,1.5 -1,1.5z"/>
<path fill="#f9ff06" d="M-1,-1 170,-1 170,40.4 167,40.3 158.2,37 115.7,20 91,9.8 87,8.4 84,7.5 74,5.6 57,3.5 50,1.8 47,1.5 -1,1.4z"/>
<path fill="#fff900" d="M-1,-1 170,-1 170,40 167,39.8 162,38 146,31.8 91,9.5 88,8.4 84,7.3 74,5.4 57,3.3 50,1.8 47,1.4 -1,1.4z"/>
<path fill="#ffec00" d="M-1,-1 170,-1 170,39.4 167,39.3 160.6,37 145.3,31 129,24.3 91,9.3 87,7.9 84,7 74,5.2 57,3.2 50,1.7 47,1.3 -1,1.3z"/>
<path fill="#ffdf00" d="M-1,-1 170,-1 170,38.9 167,38.8 162,37 146,30.8 128,23.3 105,14.4 90,8.6 84,6.8 74,5 57,3.1 51,1.8 47,1.3 -1,1.2z"/>
<path fill="#ffd200" d="M-1,-1 170,-1 170,38.4 167,38.3 163.4,37 146,30.4 132,24.3 125,21.5 91,8.7 87,7.3 84,6.5 75,5 57,3 52.6,2 47,1.2 -1,1.2z"/>
<path fill="#ffc600" d="M-1,-1 170,-1 170,37.9 167,37.8 166,37.4 146,29.9 132,23.7 125.2,21 91,8.4 85,6.5 76,4.9 57,2.8 53.2,2 47,1.2 -1,1.1z"/>
<path fill="#ffb900" d="M-1,-1 170,-1 170,37.4 167,37.2 166,36.9 146,29.5 132,23.1 125,20.3 91,8.1 85,6.3 76,4.7 66,3.8 62,3.1 57,2.7 53.8,2 47,1.1 -1,1.1z"/>
<path fill="#ffac00" d="M-1,-1 170,-1 170,36.8 167,36.7 166,36.4 146,29 132,22.5 125.8,20 91,7.7 85,6 76,4.5 66,3.6 62,3 57,2.6 54,1.9 47,1 -1,1z"/>
<path fill="#ff9f00" d="M-1,-1 170,-1 170,36.3 167,36.2 148,29.3 142.5,27 131,21.5 123,18.4 91,7.4 85,5.8 76,4.3 66,3.5 62,2.8 57,2.4 54,1.8 47,1 -1,0.9z"/>
<path fill="#ff9300" d="M-1,-1 170,-1 170,35.8 167,35.6 148.4,29 143.5,27 131,20.9 123,17.8 91,7.1 85,5.5 76,4.1 66,3.4 62,2.7 57,2.3 54,1.7 47,0.9 -1,0.9z"/>
<path fill="#ff8600" d="M-1,-1 170,-1 170,35.2 167,35.1 147,28 142.4,26 132,20.7 124,17.5 111,13.2 91,6.8 85,5.3 76.9,4 72,3.5 66,3.2 62,2.5 57,2.2 54,1.6 47,0.9 -1,0.8z"/>
<path fill="#ff7900" d="M-1,-1 170,-1 170,34.6 168,34.5 166,34.1 148.4,28 143.6,26 131,19.6 123,16.6 110,12.4 91,6.5 85,5 76,3.7 66,3.1 62,2.4 57,2 54,1.5 47,0.8 -1,0.8z"/>
<path fill="#ff6c00" d="M-1,-1 170,-1 170,33.8 167,33.7 147.4,27 142.8,25 132,19.4 125,16.7 105,10.3 91,6.2 86,5 76,3.5 66,2.9 62,2.3 57,1.9 54,1.4 47,0.8 -1,0.7z"/>
<path fill="#ff6000" d="M-1,-1 170,-1 170,33 167,32.9 147,26.1 142.1,24 132,18.7 125,16 104,9.6 91.4,6 86,4.7 76,3.3 66,2.8 62,2.1 57,1.8 54,1.3 47,0.7 -1,0.7z"/>
<path fill="#ff5300" d="M-1,-1 170,-1 170,32.2 167,32 147,25.4 143,23.7 132,18 126,15.7 104,9.1 92.7,6 87,4.7 76,3.1 66,2.6 62,2 57,1.7 54,1.2 47,0.7 -1,0.6z"/>
<path fill="#ff4600" d="M-1,-1 170,-1 170,31.3 167,31.2 147,24.7 143,23 132,17.3 126,15 103,8.3 92,5.5 87,4.4 76,2.9 66,2.4 62,1.9 57,1.6 54,1 47,0.6 -1,0.6z"/>
<path fill="#ff3900" d="M-1,-1 170,-1 170,30.5 167,30.4 166,30.1 147,24 142,21.8 133,17 127,14.7 103,7.8 88,4.3 76,2.7 66,2.3 62,1.7 57,1.5 54,0.9 48,0.6 -1,0.5z"/>
<path fill="#ff2d00" d="M-1,-1 170,-1 170,29.6 167,29.5 166,29.2 152,25 147,23.3 142,21.1 133,16.3 130,15 127,14 103,7.3 89,4.3 76,2.6 66,2.1 62,1.6 57,1.4 54,0.9 48,0.5 -1,0.5z"/>
<path fill="#ff2000" d="M-1,-1 170,-1 170,28.8 167,28.7 166,28.4 153,24.6 147,22.6 142,20.4 133,15.6 130,14.3 127,13.3 102,6.6 90,4.2 76,2.4 66,1.9 62,1.5 57,1.2 54,0.8 48,0.5 -1,0.4z"/>
<path fill="#ff1300" d="M-1,-1 170,-1 170,27.9 167,27.8 166,27.6 153.5,24 147.2,22 142.5,20 133,14.9 128,13 103,6.3 93,4.3 86,3.3 76,2.2 58,1.2 54,0.7 46,0.4 -1,0.4z"/>
<path fill="#ff0600" d="M-1,-1 170,-1 170,27 167.7,27 166,26.7 152.7,23 146.5,21 142,19 133,14.1 128,12.3 115,9.1 103.6,6 95,4.3 87,3.2 76,2 58,1.1 54,0.6 46,0.3 -1,0.3z"/>
<path fill="#f90000" d="M-1,-1 170,-1 170,25.8 167,25.7 164,25 152.9,22 146.6,20 142,18 133,13.2 128,11.5 114,8.3 102,5.2 95.4,4 76,1.8 58,1 54,0.5 46,0.3 -1,0.3z"/>
<path fill="#ec0000" d="M-1,-1 170,-1 170,21.3 166,21.1 149,17.7 143,16 134,12.3 130,11 114,7.7 102,4.7 96,3.7 75,1.6 58,0.9 54,0.4 46,0.2 -1,0.2z"/>
<path fill="#df0000" d="M-1,-1 170,-1 170,16.4 165,16.2 146,13.7 142,12.9 130,9.8 115,7.3 101,4.1 92.3,3 75,1.4 58,0.7 54,0.3 46,0.2 -1,0.2z"/>
<path fill="#d20000" d="M-1,-1 170,-1 170,11.5 150,10.8 139,9.8 116,6.9 100,3.5 75,1.2 58,0.6 54,0.3 47,0.1 -1,0.1z"/>
<path fill="#c60000" d="M-1,-1 170,-1 170,8.9 144,8.9 137,8.6 131.9,8 126,7.7 117,6.6 112,5.7 105,4 100,3.1 73,0.9 47,0.1 -1,0z"/>
<path fill="#b90000" d="M-1,-1 170,-1 170,8.5 143,8.4 128,7.4 119,6.4 113,5.5 105,3.6 100,2.7 74,0.7 46,-0.1 -1,-0.1z"/>
<path fill="#ac0000" d="M-1,-1 170,-1 170,8 143,8 129,7.1 120,6.2 113,5.2 106,3.4 101,2.4 79.3,1 74,0.5 57,0.1 46,-0.4 -1,-0.4z"/>
<path fill="#9f0000" d="M-1,-1 170,-1 170,7.7 143,7.6 127,6.6 114.1,5 104,2.4 101,1.9 83.2,1 75,0.3 59.8,0 55,-0.5 47,-0.7 -1,-0.7z"/>
<path fill="#930000" d="M61.2,-1 170,-1 170,7.3 143,7.3 127,6.3 118,5.2 113,4.4 105,2.1 101,1.3 84,0.7 75,0.1 66,0 63,-0.9z"/>
<path fill="#860000" d="M71.2,-1 170,-1 170,7 143.6,7 136,6.3 127.7,6 124,5.3 118.8,5 116,4.3 113,4 105,1.5 101,0.7 77.9,0 75,-0.7z"/>
<path fill="#800000" d="M98.2,-1 170,-1 170,5 143,4.9 124,4 114,3 105,0.7 101.1,0 100,-0.8z"/>
<path fill="#800000" d="M114.9,-1 170,-1z"/>
</g></g>
<rect x="213.3" y="223.2" width="9.5" height="147.8" fill="url(#jet)"/>
<text class="t" x="36.8" y="226.5" text-anchor="end">0</text>
<text class="t" x="36.8" y="263.4" text-anchor="end">500</text>
<text class="t" x="36.8" y="300.4" text-anchor="end">1000</text>
<text class="t" x="36.8" y="337.3" text-anchor="end">1500</text>
<text class="t" x="36.8" y="374.3" text-anchor="end">2000</text>
<text class="t" x="39.0" y="382.3" text-anchor="middle">0</text>
<text class="t" x="80.8" y="382.3" text-anchor="middle">0.5</text>
<text class="t" x="122.6" y="382.3" text-anchor="middle">1</text>
<text class="t" x="164.4" y="382.3" text-anchor="middle">1.5</text>
<text class="t" x="206.2" y="382.3" text-anchor="middle">2</text>
<text class="b" x="226.3" y="226.0">1480</text>
<text class="b" x="226.3" y="244.5">1485</text>
<text class="b" x="226.3" y="263.0">1490</text>
<text class="b" x="226.3" y="281.4">1495</text>
<text class="b" x="226.3" y="299.9">1500</text>
<text class="b" x="226.3" y="318.4">1505</text>
<text class="b" x="226.3" y="336.9">1510</text>
<text class="b" x="226.3" y="355.3">1515</text>
<text class="b" x="226.3" y="373.8">1520</text>
<text class="l" style="font-size:10px" x="123.0" y="395.0" text-anchor="middle">Range(m)</text>
<text class="t" x="206.9" y="396.5" text-anchor="end"><tspan font-size="10.4">×</tspan><tspan font-size="9.2" dx="0.3">10</tspan><tspan dy="-3.9" font-size="6.9">5</tspan></text>
<text class="l" transform="translate(14.4,297.1) rotate(-90)" text-anchor="middle">Depth(m)</text>
<text class="c" transform="translate(252.0,296.9) rotate(-90)" text-anchor="middle">Sound speed (m·s-1)</text>
<text class="p" x="41.5" y="222.1">(c)</text>
<!-- panel (d) -->
<mask id="md" maskUnits="userSpaceOnUse" x="327.6" y="221.2" width="171.6" height="151.8"><rect x="329.60" y="223.20" width="167.60" height="147.80" fill="#fff"/></mask>
<g mask="url(#md)"><g transform="translate(329.6,223.2)">
<rect x="-1" y="-1" width="169.6" height="149.8" fill="#000093"/>
<path fill="#00009f" d="M-1,-1 170,-1 170,150 -1,150 -1,94.1 2,94.7 9,96.4 13,97.2 20,97.9 28,98.3 45,98.5 76,98.4 84,97.9 88,97.3 91,96.6 94,95.6 98,94 103.7,91 109.3,87 112.8,84 115.8,81 120,76 123.1,71 124,69 125.1,66 125.7,63 125.9,60 125.8,59 125.3,58 124.5,57 123.2,56 114,50.5 100.7,41 95.3,38 88.9,35 83.7,33 80.5,32 63,27.4 57,25.6 54,24.5 52,23.5 50,22.2 44.2,18 40.5,16 39,15.6 34.2,15 27,14.6 21,14.5 12.1,15 -1,16.9z"/>
<path fill="#0000ac" d="M-1,-1 170,-1 170,150 -1,150 -1,99.6 7,101.4 11,102 17,102.6 26,102.9 78,102.9 87,102.4 90.1,102 93,101.4 96,100.4 99,99.1 103,97 107.9,94 114.9,89 122,83 128.8,76 131.8,72 132.9,70 133.6,68 134.3,65 134.5,63 134.4,62 134,61 133.2,60 130.8,58 127,55.7 118,51 114,48.8 102,40.3 96,36.9 89,33.6 83,31.4 61,25.6 55,23.6 51,21.7 44.5,17 41,15 39,14.4 36.3,14 26,13.4 22,13.3 10.3,14 3.2,15 0,15.7 -1,15.7z"/>
<path fill="#0000b9" d="M-1,-1 170,-1 170,150 -1,150 -1,103.4 7,104.7 11,105.1 18,105.5 29,105.6 82,105.6 90,105.1 93,104.7 96,104 99,102.9 102,101.4 113,94.1 118.6,90 128,82.4 135.4,77 137.3,75 139.1,72 140.1,69 140.6,66 140.6,65 140.3,64 139.7,63 137.7,61 133.7,58 128,54.5 118,49.5 114,47.3 102,38.9 97,36 90,32.7 84,30.4 80,29.3 71,27.3 63,25.2 58,23.8 54,22.4 52,21.4 50,20.2 44,15.9 42,14.8 40.2,14 38,13.6 31.4,13 25,12.7 20,12.8 14.8,13 8,13.7 -1,14.9z"/>
<path fill="#0000c6" d="M-1,-1 170,-1 170,150 -1,150 -1,106.5 9,107.4 18,107.7 75,107.8 90,107.5 95,107.1 99,106.3 102,105.2 104.2,104 111.7,98 128,86.5 132,84.4 138.5,82 140.5,81 141.9,80 143.8,78 145.5,75 146.4,72 146.9,68 146.8,67 146.3,66 144.3,64 137.6,59 132,55.2 128,52.9 118,48 114,45.8 103,38.1 100,36.2 93,32.7 87,30.2 81,28.4 71,26.3 63,24.4 55,22.1 53,21.3 51,20.2 43,14.7 41,13.8 39,13.2 29,12.5 20,12.4 9.6,13 -1,14.3z"/>
<path fill="#0000d2" d="M-1,-1 170,-1 170,150 -1,150 -1,109.2 9,109.6 19,109.8 83,109.8 95,109.4 99.2,109 103,108.3 106,107.3 108,106.2 109.3,105 112.5,101 114.6,99 121,94.3 128,89.9 131,88.6 133,88.2 140,87.4 143,86.9 145.7,86 148,84.7 150,82.9 151,81.5 152,79.6 153.1,76 153.7,71 153.6,70 153.3,69 152.6,68 150.7,66 146.9,63 140.8,59 130,52.5 118,46.5 114,44.3 103,36.6 100,34.8 94,31.8 88,29.3 82,27.5 66,24.4 60,22.9 55,21.4 53,20.7 51,19.6 43,14.2 41,13.3 39,12.7 28,12 19,12 10,12.5 -1,13.7z"/>
<path fill="#0000df" d="M-1,-1 170,-1 170,150 -1,150 -1,111.4 20,111.7 88,111.7 100,111.2 104,110.8 108,110.1 111,109.1 112.9,108 114,106.8 116.2,102 117.7,100 120,98 122.8,96 126,94 128,93 130,92.2 133,91.7 142,92.1 147,91.8 151,90.8 152.8,90 154.4,89 155.7,88 157,86.5 158.1,85 159,83 160.2,79 160.8,74 160.6,72 160,71 159.1,70 154,65.7 150,62.6 146.2,60 141.2,57 133.9,53 118,45 114,42.8 103,35.1 100,33.3 94,30.4 89,28.3 83,26.5 67,23.7 60,22.2 55,20.8 53,20 51,19 43,13.7 41,12.8 39,12.2 29,11.7 19,11.6 11,12 -1,13.2z"/>
<path fill="#0000ec" d="M-1,-1 170,-1 170,73 168,72.7 167,72.2 160.7,66 158,64 154.8,62 141.2,55 117,42.9 112,40 104,34.4 101,32.4 95,29.5 89,27 83,25.3 67,22.9 61,21.7 55,20.1 53,19.4 51,18.4 42.6,13 41,12.3 39,11.8 29,11.3 19,11.3 9,11.8 -1,12.7zM169.9,86 170,150 -1,150 -1,113.4 19,113.6 90,113.6 102,113.3 110,112.5 113,112 116,111.1 118.2,110 119,109.3 119.9,108 120.2,107 120.3,103 121.2,101 122,100 124.3,98 126,96.9 128,95.9 130,95.2 133,94.9 143,96.1 147,96.3 151,96.2 155,95.5 158,94.5 161.1,93 163.8,91 168,87.3z"/>
<path fill="#0000f9" d="M-1,-1 170,-1 170,66.6 168,66.4 167,65.9 162.3,62 158,59.6 154.2,58 147,55.4 142,53.3 121,43.5 113,39.2 101,31 94.8,28 88,25.3 82.3,24 71,22.7 65,21.8 59,20.5 55,19.5 53,18.8 51,17.9 43.4,13 41.3,12 39,11.4 29.6,11 18,11 10,11.3 -1,12.1zM131.4,98 135,98.1 146,100 153,100.3 159,99.8 167,97.9 170,97.5 170,150 -1,150 -1,115.5 94,115.6 106,115.3 114,114.5 118,113.9 121.4,113 123.8,112 125.3,111 126.1,110 126.4,109 126.4,108 125.2,104 125.1,103 125.3,102 125.9,101 126.7,100 128,99.1 130,98.3z"/>
<path fill="#0006ff" d="M-1,-1 170,-1 170,60.3 168,60.2 167,59.9 163.9,58 161.6,57 158.5,56 149,53.8 145,52.7 142,51.6 135,48.8 124,43.7 116,39.6 111,36.6 103,31 99.6,29 93,26 87.5,24 82.9,23 68,21.6 62,20.6 57,19.5 54,18.7 52,17.9 50,16.8 44,12.9 42,11.9 39.1,11 28,10.7 18,10.7 9.4,11 -1,11.8zM132.9,102 136,101.9 146,103.5 153,104.1 159,104 170,103.1 170,150 -1,150 -1,117.8 97,117.8 108,117.6 117,116.9 122.9,116 126.9,115 130,113.8 131.6,113 132.8,112 133.5,111 133.7,110 133.6,109 131.6,105 131.3,104 131.5,103 132,102.5z"/>
<path fill="#0013ff" d="M-1,-1 170,-1 170,57.5 167,57.3 160,55.3 147,52.2 142,50.6 136,48.3 125,43.3 115,38.2 111,35.7 102.7,30 99.2,28 92,24.8 86.8,23 82,22.2 71,21.4 66,20.7 59,19.5 55,18.5 52,17.5 50,16.4 43,12 40.5,11 39,10.7 28,10.5 19,10.5 7,10.9 -1,11.4zM154.6,108 170,107.3 170,150 -1,150 -1,120.6 98,120.6 108,120.5 116,120 121,119.5 126,118.8 130,117.9 135,116.5 139.3,115 141.3,114 142.8,113 143.9,112 145.5,110 147,109 150,108.4z"/>
<path fill="#0020ff" d="M-1,-1 170,-1 170,56.5 167,56.3 148,51.7 143,50.2 136,47.5 125,42.6 115,37.5 111,35 103.8,30 100,27.8 92,24.1 87,22.3 83,21.6 67,20.4 62,19.6 56,18.3 52,17.1 43,11.7 41,10.9 39,10.5 28,10.2 19,10.2 7,10.6 -1,11.1zM160.9,112 165,111.4 170,111.1 170,150 -1,150 -1,123.8 99,123.8 110,123.7 118,123.3 124,122.7 129,122 136,120.6 142.8,119 149,117 157,113.1z"/>
<path fill="#002dff" d="M-1,-1 170,-1 170,55.7 167,55.5 148,50.9 142,49 136,46.8 126,42.4 116,37.3 112,35 104,29.5 100,27.1 92,23.4 87,21.6 83,20.9 67,19.9 62,19.2 57,18.2 54,17.5 52,16.7 43,11.5 41,10.6 39,10.2 19,10 -1,10.8zM164.9,117 167,116.5 170,116.1 170,150 -1,150 -1,127.2 101,127.2 112,127 120,126.7 131,125.6 140,124.2 146.5,123 154.1,121z"/>
<path fill="#0039ff" d="M-1,-1 170,-1 170,54.9 167,54.7 148,50.1 142,48.3 135,45.6 125,41.3 116,36.6 112,34.3 104,28.9 100,26.5 92,22.7 87,20.9 83,20.2 67,19.5 62,18.8 56,17.6 52,16.4 50,15.4 43,11.2 41,10.4 39,9.9 19,9.8 -1,10.6zM164.1,124 167,123.4 170,123.1 170,150 -1,150 -1,130.7 101,130.7 119,130.4 130,129.6 145,127.9 154,126.3z"/>
<path fill="#0046ff" d="M-1,-1 170,-1 170,54.1 167,53.9 148,49.3 141,47.2 134,44.5 125,40.6 116,35.9 112,33.6 104,28.3 100,25.9 92,22 87,20.2 83,19.6 67,19 62,18.4 56,17.2 52,16.1 50,15.1 43,10.9 41,10.1 39,9.7 19,9.5 -1,10.4zM168.8,129 170,128.9 170,150 -1,150 -1,134.4 100,134.3 118,134.1 129,133.6 145,132.2 153,131.2 165,129.4z"/>
<path fill="#0053ff" d="M-1,-1 170,-1 170,53.3 167,53.1 148,48.6 141,46.4 133,43.4 125,39.9 116,35.2 112,32.9 104,27.6 100,25.3 91,20.9 87,19.4 84,18.9 67,18.6 62,18 57,17.1 54,16.4 52,15.7 50,14.7 43,10.6 41,9.8 39,9.5 19,9.3 -1,10.1zM159.1,135 166,134.2 170,134 170,150 -1,150 -1,138.2 116,138.1 126,137.7 138,137 149,136.1z"/>
<path fill="#0060ff" d="M-1,-1 170,-1 170,52.4 167,52.3 148,47.8 141,45.7 133,42.7 125,39.2 116,34.5 112,32.2 104,27 100,24.7 91,20.2 87,18.7 84,18.3 67,18.2 64,17.9 58.6,17 54,16 52,15.4 49.3,14 43,10.4 41,9.6 39,9.2 19,9.1 -1,9.9zM165.2,139 170,138.8 170,150 -1,150 -1,142.3 117,142.1 128,141.8 143,140.9z"/>
<path fill="#006cff" d="M-1,-1 170,-1 170,51.6 167,51.5 148,47 140,44.6 132,41.6 125,38.5 116,33.9 112,31.6 104,26.4 100,24 92,20 87,18 85,17.7 83,17.6 67,17.6 61.2,17 56,16.1 52,15 49.9,14 44,10.5 42,9.6 39,9 19,8.9 -1,9.7zM161.3,144 170,143.5 170,150 -1,150 -1,147.3 113,147.1 129,146.5 147,145.3z"/>
<path fill="#0079ff" d="M-1,-1 170,-1 170,50.8 168,50.8 166,50.5 149,46.5 141,44.2 132,40.9 124,37.4 115,32.6 111,30.3 103,25.1 100,23.4 91.1,19 87,17.5 85,17 83,16.9 72,17.2 67,17.1 58.8,16 53,14.7 51,13.9 44,10.1 42,9.3 39,8.8 18,8.7 -1,9.4z"/>
<path fill="#0086ff" d="M-1,-1 170,-1 170,50 168,50 165,49.5 148,45.5 141,43.5 132,40.2 124,36.7 116,32.5 112,30.3 103.8,25 100.3,23 92.3,19 87.3,17 83,16.3 69,16.1 66.5,16 64,15.6 60.6,15 53,13.2 44,9.6 42.1,9 40,8.6 19,8.5 -1,9.2z"/>
<path fill="#0093ff" d="M-1,-1 170,-1 170,49.4 168,49.4 166,49.1 149,45.1 140,42.5 132,39.6 125,36.5 115,31.4 111,29.1 103,24 99.4,22 90.9,18 88,16.8 85,16.1 81,15.4 70,14.4 65,13.7 53,11.3 43.9,9 40,8.4 19,8.3 -1,9z"/>
<path fill="#009fff" d="M-1,-1 170,-1 170,48.8 168,48.8 166,48.5 149,44.5 141,42.2 133,39.3 125,35.9 116,31.4 112,29.2 102.2,23 98.4,21 93,18.5 88,16.5 82,14.9 61.9,11 40,8.1 18,8.1 -1,8.8z"/>
<path fill="#00acff" d="M-1,-1 170,-1 170,48.2 167,48.1 151,44.4 143,42.2 135,39.4 127,36.2 119,32.4 112,28.6 102,22.4 96,19.4 88,16.2 74.6,12 71,11.1 62.6,10 55,9.4 40,7.9 18,7.9 -1,8.5z"/>
<path fill="#00b9ff" d="M-1,-1 170,-1 170,47.6 168,47.6 166,47.3 150,43.5 142,41.2 134,38.4 126,35.2 117,30.8 112,28.1 102,21.9 97,19.4 88,15.8 76.8,12 72,10.6 65,9.6 40,7.6 18,7.6 -1,8.3z"/>
<path fill="#00c6ff" d="M-1,-1 170,-1 170,47 168,47 166,46.7 150,42.9 142,40.6 134,37.8 125,34.1 116,29.7 112,27.6 102,21.4 98,19.3 89,15.7 75,10.9 71,9.9 66,9.3 41,7.4 19,7.4 -1,8.1z"/>
<path fill="#00d2ff" d="M-1,-1 170,-1 170,46.4 167,46.3 151,42.6 143,40.3 135,37.5 126,33.9 117,29.7 112,27 102,20.9 98,18.8 89,15.2 73.4,10 70,9.3 65,8.7 41,7.2 19,7.2 -1,7.9z"/>
<path fill="#00dfff" d="M-1,-1 170,-1 170,45.8 167,45.7 151,41.9 143,39.7 135,36.9 125,32.9 116,28.6 112,26.5 102,20.4 98,18.3 89.7,15 74,9.7 70,8.8 65,8.3 42,7 18,7 -1,7.7z"/>
<path fill="#00ecff" d="M-1,-1 170,-1 170,45.2 167,45.1 152,41.6 144,39.4 136,36.7 126,32.7 117,28.6 112,26 102.2,20 98,17.9 88.2,14 76.5,10 73.1,9 70,8.4 64,7.8 41,6.7 18,6.8 -1,7.4z"/>
<path fill="#00f9ff" d="M-1,-1 170,-1 170,44.6 167,44.5 151,40.7 143,38.5 135,35.7 125,31.7 116,27.6 112,25.5 102,19.4 97.1,17 89.5,14 74.6,9 70.1,8 64,7.5 42,6.5 19,6.5 -1,7.2z"/>
<path fill="#06fff9" d="M-1,-1 170,-1 170,44 168,44 166,43.7 152,40.4 145,38.5 136,35.5 126,31.6 117,27.5 111,24.4 102.1,19 98.1,17 87.8,13 76,9 73,8.2 70,7.7 62.7,7 41,6.3 19,6.3 -1,7z"/>
<path fill="#13ffec" d="M-1,-1 170,-1 170,43.5 167,43.4 153,40.2 146,38.3 137,35.4 127,31.5 116,26.5 112,24.5 101,18 96.7,16 88.9,13 73.6,8 70,7.4 65,6.9 42,6.1 19,6.1 -1,6.8z"/>
<path fill="#20ffdf" d="M-1,-1 170,-1 170,43.1 167,42.9 152,39.4 144,37.2 136,34.5 126,30.6 117,26.5 112,24 101.8,18 97.5,16 89.8,13 74,7.8 70,7 65,6.6 45,6 19,5.9 -1,6.6z"/>
<path fill="#2dffd2" d="M-1,-1 170,-1 170,42.6 167,42.4 151,38.7 144,36.8 137,34.4 126,30.1 117,26.1 112,23.6 102.4,18 98,15.9 88,12 74,7.6 70,6.8 65,6.4 46,5.8 19,5.8 -1,6.4z"/>
<path fill="#39ffc6" d="M-1,-1 170,-1 170,42.1 167,42 152,38.5 145,36.6 138,34.3 127,30.1 118,26.1 112,23.1 102,17.4 97,15.1 88.8,12 74,7.3 70,6.5 65,6.2 47,5.7 19,5.6 -1,6.2z"/>
<path fill="#46ffb9" d="M-1,-1 170,-1 170,41.7 167,41.5 152,38 145,36.2 138,33.9 127,29.6 118,25.6 112,22.7 102,17 97.6,15 88,11.4 74,7 70,6.3 66.3,6 48,5.5 20,5.4 -1,6z"/>
<path fill="#53ffac" d="M-1,-1 170,-1 170,41.2 167,41 152,37.6 145,35.7 138,33.4 128,29.6 119,25.6 113,22.7 103,17.2 98.4,15 89,11.4 75,7 72,6.3 69,5.9 55,5.4 21,5.3 -1,5.8z"/>
<path fill="#60ff9f" d="M-1,-1 170,-1 170,40.7 167,40.6 152,37.1 145,35.3 139,33.3 129,29.5 120,25.6 113,22.3 102,16.3 97,14.1 88.6,11 74,6.5 71.5,6 69,5.7 54,5.2 20,5.1 -1,5.6z"/>
<path fill="#6cff93" d="M-1,-1 170,-1 170,40.2 167,40.1 152,36.7 145,34.8 139,32.9 129,29.1 121,25.6 113,21.8 102.1,16 97.6,14 89.5,11 74,6.3 69,5.5 55,5 20,5 -1,5.5z"/>
<path fill="#79ff86" d="M-1,-1 170,-1 170,39.8 167,39.6 154,36.7 146,34.7 139,32.5 129,28.6 122,25.6 114,21.9 102.8,16 98.4,14 87.4,10 74,6 69,5.3 56,4.9 20,4.8 -1,5.3z"/>
<path fill="#86ff79" d="M-1,-1 170,-1 170,39.4 167,39.2 155,36.5 147,34.5 140,32.4 130,28.6 123,25.6 114,21.5 103.5,16 99,13.9 88.2,10 74.8,6 69,5.1 57,4.8 21,4.7 -1,5.1z"/>
<path fill="#93ff6c" d="M-1,-1 170,-1 170,38.9 167,38.8 152,35.4 145,33.6 139,31.6 130,28.2 123,25.2 113,20.6 102.1,15 97.4,13 89,10 75.5,6 70,5 57,4.6 21,4.6 -1,5z"/>
<path fill="#9fff60" d="M-1,-1 170,-1 170,38.5 167,38.4 154,35.5 146,33.4 140,31.6 132,28.6 124,25.3 113,20.2 102.8,15 98.2,13 89.8,10 75,5.7 70,4.8 57,4.5 21,4.4 -1,4.8z"/>
<path fill="#acff53" d="M-1,-1 170,-1 170,38.1 167,38 155,35.3 147,33.3 140,31.1 132,28.2 125,25.3 113,19.8 103.5,15 98.9,13 89,9.5 75,5.6 70,4.7 57,4.3 20,4.3 -1,4.7z"/>
<path fill="#b9ff46" d="M-1,-1 170,-1 170,37.7 167,37.6 156,35.2 147,32.9 140,30.7 132,27.8 125,24.9 113,19.4 104,14.9 99,12.7 88,9 75,5.4 70,4.6 57,4.2 20,4.2 -1,4.6z"/>
<path fill="#c6ff39" d="M-1,-1 170,-1 170,37.4 167,37.2 156,34.8 147,32.5 140,30.3 133,27.8 126,25 113,19 104,14.6 99,12.5 88.8,9 74,5 69,4.4 56,4 20,4 -1,4.5z"/>
<path fill="#d2ff2d" d="M-1,-1 170,-1 170,37 167,36.8 158.5,35 149,32.7 141,30.3 134.6,28 127,25 114,19.1 103.4,14 99,12.2 89.5,9 74.7,5 70,4.3 57,3.9 20,3.9 -1,4.4z"/>
<path fill="#dfff20" d="M-1,-1 170,-1 170,36.6 167,36.4 160.1,35 149,32.3 141.4,30 133,27 126,24.2 104.1,14 99.3,12 90.3,9 75,4.9 70,4.2 57,3.8 20,3.8 -1,4.2z"/>
<path fill="#ecff13" d="M-1,-1 170,-1 170,36.2 167,36 157.4,34 149.5,32 141,29.5 134,27 126.5,24 104.9,14 100.1,12 90,8.7 75,4.8 70,4 57,3.7 20,3.7 -1,4.1z"/>
<path fill="#f9ff06" d="M-1,-1 170,-1 170,35.7 167,35.6 159.1,34 151,32 141,29.1 135.1,27 127.5,24 105.6,14 100.9,12 90,8.5 75,4.6 70,3.9 57,3.6 20,3.6 -1,4z"/>
<path fill="#fff900" d="M-1,-1 170,-1 170,35.3 167,35.2 160.9,34 152.6,32 142.2,29 136.3,27 128.5,24 106.4,14 99,11 89.1,8 75,4.5 70,3.8 57,3.5 20,3.5 -1,3.9z"/>
<path fill="#ffec00" d="M-1,-1 170,-1 170,34.8 167,34.7 158.8,33 150.7,31 143,28.8 134.9,26 129,23.7 107.2,14 99.7,11 89,7.7 75,4.3 70,3.7 56,3.3 20,3.3 -1,3.8z"/>
<path fill="#ffdf00" d="M-1,-1 170,-1 170,34.3 167,34.2 161,33 152,30.8 142.2,28 136,25.9 128.5,23 109,14.4 100.4,11 89,7.5 75,4.2 70,3.5 56,3.2 20,3.2 -1,3.7z"/>
<path fill="#ffd200" d="M-1,-1 170,-1 170,33.8 167,33.7 161,32.4 151,30 143,27.7 137,25.7 129,22.7 115,16.5 101.2,11 89,7.3 75,4 70,3.4 56,3.1 20,3.1 -1,3.6z"/>
<path fill="#ffc600" d="M-1,-1 170,-1 170,33.2 167,33.1 161,31.9 152,29.7 144,27.5 138,25.5 130,22.6 114.8,16 101,10.7 89,7.1 75.5,4 70,3.3 57,3 20,3 -1,3.5z"/>
<path fill="#ffb900" d="M-1,-1 170,-1 170,32.7 167,32.6 161,31.3 152,29.2 144,26.9 138,25 130,22 115,15.6 102,10.7 89.5,7 76.3,4 70,3.2 58,2.9 19,2.9 -1,3.4z"/>
<path fill="#ffac00" d="M-1,-1 170,-1 170,32.2 167,32 161,30.8 152,28.6 144,26.4 138,24.4 130,21.5 115,15.1 103,10.8 90,6.9 77,4 73,3.3 70,3.1 59,2.8 20,2.8 -1,3.3z"/>
<path fill="#ff9f00" d="M-1,-1 170,-1 170,31.6 167,31.5 162,30.5 153,28.3 145,26.2 139,24.2 131,21.3 115.9,15 104.7,11 90,6.7 77.8,4 71,3 59,2.7 20,2.7 -1,3.2z"/>
<path fill="#ff9300" d="M-1,-1 170,-1 170,31.1 167,30.9 162.4,30 153.8,28 145,25.6 139.9,24 131.5,21 116,14.5 107,11.4 91,6.7 78.5,4 74,3.2 71,2.9 60,2.6 20,2.6 -1,3z"/>
<path fill="#ff8600" d="M-1,-1 170,-1 170,30.5 167,30.4 162,29.3 152.1,27 145,25.1 133,21 127.7,19 117,14.4 109,11.7 91,6.5 79.4,4 72,2.9 61,2.6 20,2.5 -1,2.9z"/>
<path fill="#ff7900" d="M-1,-1 170,-1 170,30 167,29.8 163,29 146.7,25 140.2,23 134.5,21 129,18.9 117.1,14 111.3,12 103,9.5 92,6.5 80.2,4 72,2.8 62,2.5 21,2.4 -1,2.8z"/>
<path fill="#ff6c00" d="M-1,-1 170,-1 170,29.3 167,29.2 163,28.3 152.9,26 145.3,24 136.3,21 128,17.9 118,13.8 112,11.8 104,9.4 92,6.3 81,4 73,2.8 63,2.4 21,2.3 -1,2.7z"/>
<path fill="#ff6000" d="M-1,-1 170,-1 170,28.6 168,28.6 165,28.1 147,23.9 140,21.7 118,13.3 112,11.4 104,9.1 93,6.3 87.4,5 81,3.8 73,2.6 63,2.3 21,2.2 -1,2.6z"/>
<path fill="#ff5300" d="M-1,-1 170,-1 170,27.9 168,27.9 166,27.6 153,24.7 146,23 140,21.1 121.2,14 114,11.5 100,7.7 91,5.6 85,4.4 75,2.8 69,2.3 56,2.1 22,2.1 -1,2.5z"/>
<path fill="#ff4600" d="M-1,-1 170,-1 170,27.2 168,27.2 166,26.9 153,24.1 146,22.4 141,20.8 122.8,14 113.7,11 100,7.3 86,4.4 75,2.6 69,2.2 56,2 22,2 -1,2.4z"/>
<path fill="#ff3900" d="M-1,-1 170,-1 170,26.5 168,26.5 166,26.2 147,22 141,20.2 127.5,15 115.3,11 101,7.2 86,4.2 75,2.5 69,2.1 22,2 -1,2.3z"/>
<path fill="#ff2d00" d="M-1,-1 170,-1 170,25.8 167,25.7 147,21.4 142,19.9 129.5,15 116,10.8 101,6.8 86,4 76,2.5 69,2 21,1.9 -1,2.2z"/>
<path fill="#ff2000" d="M-1,-1 170,-1 170,25.1 167,25 147,20.8 142,19.3 130,14.5 118,10.8 101,6.5 86,3.8 75,2.3 68,1.9 21,1.8 -1,2.1z"/>
<path fill="#ff1300" d="M-1,-1 170,-1 170,24.4 167,24.3 147,20.2 141,18.3 131,14.1 123,11.7 102,6.3 87,3.7 76,2.3 69,1.8 21,1.7 -1,2z"/>
<path fill="#ff0600" d="M-1,-1 170,-1 170,23.7 167,23.5 147,19.5 142,18 132,13.7 126,11.8 102,5.9 89,3.8 77,2.3 69,1.7 21,1.6 -1,1.9z"/>
<path fill="#f90000" d="M-1,-1 170,-1 170,22.7 168,22.7 164,22 161,21.3 148,18.9 144.5,18 141.7,17 133,13.2 127,11.3 106,6.3 101,5.3 95,4.3 79,2.3 70,1.6 21,1.5 -1,1.8z"/>
<path fill="#ec0000" d="M-1,-1 170,-1 170,20.3 167,20.1 148,16.8 143,15.5 132,11.7 127,10.3 103,5.2 91,3.5 79,2.2 70,1.5 21,1.4 -1,1.7z"/>
<path fill="#df0000" d="M-1,-1 170,-1 170,17.5 166,17.3 149,14.5 143,13.3 132,10.3 127,9.2 102,4.5 93,3.4 75,1.7 70,1.4 21,1.3 -1,1.5z"/>
<path fill="#d20000" d="M-1,-1 170,-1 170,14.8 166,14.6 153,12.8 141,10.8 131.9,9 115,6.4 103,4.2 90,2.7 75,1.5 70,1.3 21,1.2 -1,1.4z"/>
<path fill="#c60000" d="M-1,-1 170,-1 170,13.4 167,13.3 161,12.7 157.2,12 154,11.7 150.7,11 147,10.6 144.2,10 141,9.7 137.4,9 134,8.7 130.7,8 127,7.6 123.8,7 114,5.6 105,4 100,3.3 92,2.5 76,1.4 70,1.2 21,1.1 -1,1.3z"/>
<path fill="#b90000" d="M-1,-1 170,-1 170,12.8 163,12.4 156,11.5 146,9.8 115,5.4 103,3.2 97,2.5 80,1.5 71,1.1 -1,1.1z"/>
<path fill="#ac0000" d="M-1,-1 170,-1 170,12.5 166,12.3 157,11.2 116,5.1 103,2.7 99,2.2 86,1.5 69,0.9 22,0.8 -1,1z"/>
<path fill="#9f0000" d="M-1,-1 170,-1 170,12.2 166.1,12 155,10.6 115,4.6 104,2.4 99,1.7 89,1.2 69,0.7 22,0.6 -1,0.7z"/>
<path fill="#930000" d="M-1,-1 170,-1 170,11.7 167,11.6 161,11.1 145,8.6 121,5.2 114,4.1 104,1.8 100,1.2 70,0.4 -1,0.4z"/>
<path fill="#860000" d="M-1,-1 170,-1 170,11.2 163.2,11 160,10.3 155.9,10 153,9.3 149.3,9 147,8.3 142.7,8 140,7.3 135.5,7 133,6.3 128.6,6 126,5.3 121.8,5 119,4.3 115.6,4 114,3.5 110.8,3 109,2.4 105,1.4 100,0.6 70,0.1 -1,0.2z"/>
<path fill="#800000" d="M98.1,-1 170,-1 170,8.2 165.2,8 155,7 116.9,3 111,2 105,0.6 101,0 100,-0.6 99,-1z"/>
<path fill="#800000" d="M114.8,-1 170,-1z"/>
</g></g>
<rect x="503.6" y="223.2" width="9.5" height="147.8" fill="url(#jet)"/>
<text class="t" x="327.4" y="226.5" text-anchor="end">0</text>
<text class="t" x="327.4" y="263.4" text-anchor="end">500</text>
<text class="t" x="327.4" y="300.4" text-anchor="end">1000</text>
<text class="t" x="327.4" y="337.3" text-anchor="end">1500</text>
<text class="t" x="327.4" y="374.3" text-anchor="end">2000</text>
<text class="t" x="329.6" y="382.3" text-anchor="middle">0</text>
<text class="t" x="371.5" y="382.3" text-anchor="middle">0.5</text>
<text class="t" x="413.4" y="382.3" text-anchor="middle">1</text>
<text class="t" x="455.3" y="382.3" text-anchor="middle">1.5</text>
<text class="t" x="497.2" y="382.3" text-anchor="middle">2</text>
<text class="b" x="516.6" y="226.0">1480</text>
<text class="b" x="516.6" y="244.5">1485</text>
<text class="b" x="516.6" y="263.0">1490</text>
<text class="b" x="516.6" y="281.4">1495</text>
<text class="b" x="516.6" y="299.9">1500</text>
<text class="b" x="516.6" y="318.4">1505</text>
<text class="b" x="516.6" y="336.9">1510</text>
<text class="b" x="516.6" y="355.3">1515</text>
<text class="b" x="516.6" y="373.8">1520</text>
<text class="l" style="font-size:10px" x="413.8" y="395.0" text-anchor="middle">Range(m)</text>
<text class="t" x="497.9" y="396.5" text-anchor="end"><tspan font-size="10.4">×</tspan><tspan font-size="9.2" dx="0.3">10</tspan><tspan dy="-3.9" font-size="6.9">5</tspan></text>
<text class="l" transform="translate(305.5,297.1) rotate(-90)" text-anchor="middle">Depth(m)</text>
<text class="c" transform="translate(542.9,296.9) rotate(-90)" text-anchor="middle">Sound speed (m·s-1)</text>
<text class="p" x="332.6" y="221.5">(d)</text>
</svg></body></html>
